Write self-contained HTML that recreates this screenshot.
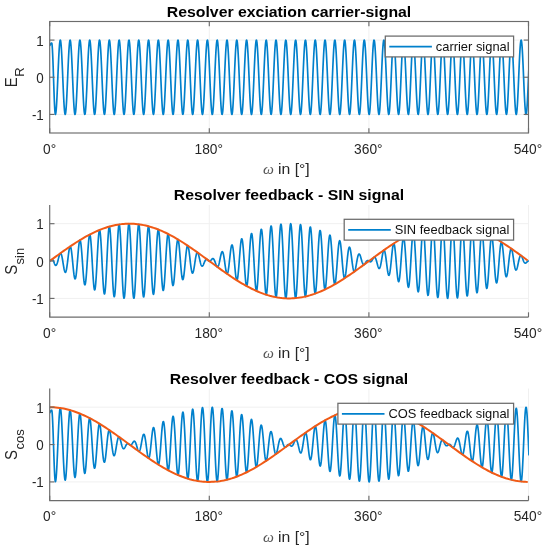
<!DOCTYPE html>
<html><head><meta charset="utf-8"><title>Resolver signals</title>
<style>
html,body{margin:0;padding:0;background:#fff;}
svg{display:block;}
text{font-family:"Liberation Sans",Arial,sans-serif;fill:#262626;}
.tk{font-size:14.4px;}
.lb{font-size:14.67px;}
.tt{font-size:15.5px;font-weight:bold;fill:#000;}
.lg{font-size:12.9px;fill:#111;}
.om{font-family:"Liberation Serif","DejaVu Serif",serif;font-style:italic;}
</style></head><body>
<svg width="548" height="550" viewBox="0 0 548 550">
<rect width="548" height="550" fill="#fff"/>
<defs><filter id="bl" x="-2%" y="-5%" width="104%" height="110%"><feGaussianBlur stdDeviation="0.2"/></filter></defs>
<g stroke="#f0f0f0" stroke-width="1"><line x1="49.70" y1="21.5" x2="49.70" y2="133.0"/><line x1="209.30" y1="21.5" x2="209.30" y2="133.0"/><line x1="368.90" y1="21.5" x2="368.90" y2="133.0"/><line x1="528.50" y1="21.5" x2="528.50" y2="133.0"/><line x1="49.7" y1="114.42" x2="528.5" y2="114.42"/><line x1="49.7" y1="77.25" x2="528.5" y2="77.25"/><line x1="49.7" y1="40.08" x2="528.5" y2="40.08"/></g>
<clipPath id="c0"><rect x="49.7" y="21.5" width="479.25" height="111.5"/></clipPath><g clip-path="url(#c0)"><g filter="url(#bl)"><path d="M49.70 46.03L49.95 45.33L50.20 44.73L50.45 44.22L50.70 43.80L50.95 43.47L51.20 43.24L51.45 43.10L51.70 43.06L51.95 43.86L52.20 46.22L52.45 50.05L52.70 55.16L52.95 61.34L53.20 68.29L53.45 75.71L53.70 83.27L53.95 90.62L54.20 97.44L54.45 103.43L54.70 108.30L54.95 111.84L55.20 113.90L55.45 114.40L55.70 113.73L55.95 112.13L56.20 109.64L56.45 106.32L56.70 102.25L56.95 97.54L57.20 92.31L57.45 86.70L57.70 80.85L57.95 74.90L58.20 69.01L58.45 63.34L58.70 58.02L58.95 53.19L59.20 48.98L59.45 45.49L59.70 42.82L59.95 41.03L60.20 40.16L60.45 40.25L60.70 41.28L60.95 43.24L61.20 46.06L61.45 49.69L61.70 54.02L61.95 58.94L62.20 64.34L62.45 70.06L62.70 75.97L62.95 81.91L63.20 87.73L63.45 93.29L63.70 98.43L63.95 103.03L64.20 106.97L64.45 110.15L64.70 112.49L64.95 113.92L65.20 114.42L65.45 113.96L65.70 112.56L65.95 110.26L66.20 107.11L66.45 103.20L66.70 98.63L66.95 93.50L67.20 87.96L67.45 82.15L67.70 76.21L67.95 70.30L68.20 64.56L68.45 59.15L68.70 54.20L68.95 49.85L69.20 46.19L69.45 43.33L69.70 41.34L69.95 40.27L70.20 40.15L70.45 40.97L70.70 42.73L70.95 45.37L71.20 48.83L71.45 53.01L71.70 57.81L71.95 63.12L72.20 68.78L72.45 74.66L72.70 80.61L72.95 86.47L73.20 92.10L73.45 97.34L73.70 102.07L73.95 106.17L74.20 109.52L74.45 112.05L74.70 113.69L74.95 114.39L75.20 114.14L75.45 112.95L75.70 110.84L75.95 107.88L76.20 104.12L76.45 99.68L76.70 94.67L76.95 89.21L77.20 83.44L77.45 77.52L77.70 71.59L77.95 65.80L78.20 60.31L78.45 55.25L78.70 50.75L78.95 46.93L79.20 43.89L79.45 41.70L79.70 40.43L79.95 40.09L80.20 40.71L80.45 42.27L80.70 44.72L80.95 48.00L81.20 52.03L81.45 56.71L81.70 61.91L81.95 67.51L82.20 73.36L82.45 79.30L82.70 85.20L82.95 90.89L83.20 96.23L83.45 101.08L83.70 105.33L83.95 108.85L84.20 111.57L84.45 113.40L84.70 114.32L84.95 114.28L85.20 113.29L85.45 111.38L85.70 108.60L85.95 105.01L86.20 100.71L86.45 95.82L86.70 90.44L86.95 84.73L87.20 78.83L87.45 72.88L87.70 67.05L87.95 61.48L88.20 56.31L88.45 51.68L88.70 47.71L88.95 44.49L89.20 42.11L89.45 40.63L89.70 40.09L89.95 40.50L90.20 41.85L90.45 44.10L90.70 47.21L90.95 51.09L91.20 55.63L91.45 60.73L91.70 66.25L91.95 72.06L92.20 77.99L92.45 83.91L92.70 89.66L92.95 95.09L93.20 100.06L93.45 104.45L93.70 108.14L93.95 111.04L94.20 113.08L94.45 114.20L94.70 114.37L94.95 113.59L95.20 111.88L95.45 109.28L95.70 105.87L95.95 101.72L96.20 96.94L96.45 91.66L96.70 86.01L96.95 80.13L97.20 74.19L97.45 68.32L97.70 62.68L97.95 57.41L98.20 52.65L98.45 48.52L98.70 45.13L98.95 42.56L99.20 40.87L99.45 40.12L99.70 40.32L99.95 41.47L100.20 43.53L100.45 46.46L100.70 50.17L100.95 54.58L101.20 59.57L101.45 65.01L101.70 70.76L101.95 76.68L102.20 82.62L102.45 88.42L102.70 93.93L102.95 99.01L103.20 103.54L103.45 107.40L103.70 110.48L103.95 112.71L104.20 114.03L104.45 114.41L104.70 113.84L104.95 112.33L105.20 109.93L105.45 106.68L105.70 102.69L105.95 98.04L106.20 92.86L106.45 87.28L106.70 81.44L106.95 75.49L107.20 69.59L107.45 63.89L107.70 58.53L107.95 53.65L108.20 49.37L108.45 45.81L108.70 43.05L108.95 41.17L109.20 40.21L109.45 40.20L109.70 41.14L109.95 43.00L110.20 45.74L110.45 49.29L110.70 53.56L110.95 58.43L111.20 63.78L111.45 69.48L111.70 75.38L111.95 81.32L112.20 87.16L112.45 92.75L112.70 97.94L112.95 102.60L113.20 106.61L113.45 109.87L113.70 112.29L113.95 113.82L114.20 114.41L114.45 114.05L114.70 112.74L114.95 110.53L115.20 107.46L115.45 103.63L115.70 99.11L115.95 94.04L116.20 88.53L116.45 82.74L116.70 76.80L116.95 70.88L117.20 65.12L117.45 59.67L117.70 54.67L117.95 50.25L118.20 46.52L118.45 43.58L118.70 41.50L118.95 40.34L119.20 40.12L119.45 40.85L119.70 42.51L119.95 45.07L120.20 48.45L120.45 52.56L120.70 57.31L120.95 62.57L121.20 68.20L121.45 74.07L121.70 80.02L121.95 85.89L122.20 91.55L122.45 96.84L122.70 101.63L122.95 105.79L123.20 109.22L123.45 111.84L123.70 113.56L123.95 114.36L124.20 114.21L124.45 113.11L124.70 111.09L124.95 108.21L125.20 104.53L125.45 100.16L125.70 95.19L125.95 89.77L126.20 84.03L126.45 78.11L126.70 72.18L126.95 66.37L127.20 60.84L127.45 55.73L127.70 51.17L127.95 47.28L128.20 44.16L128.45 41.88L128.70 40.51L128.95 40.08L129.20 40.61L129.45 42.07L129.70 44.43L129.95 47.64L130.20 51.60L130.45 56.22L130.70 61.37L130.95 66.94L131.20 72.77L131.45 78.71L131.70 84.61L131.95 90.33L132.20 95.71L132.45 100.62L132.70 104.93L132.95 108.53L133.20 111.33L133.45 113.26L133.70 114.27L133.95 114.32L134.20 113.43L134.45 111.61L134.70 108.91L134.95 105.40L135.20 101.17L135.45 96.33L135.70 91.00L135.95 85.31L136.20 79.42L136.45 73.48L136.70 67.63L136.95 62.02L137.20 56.81L137.45 52.12L137.70 48.07L137.95 44.77L138.20 42.31L138.45 40.73L138.70 40.10L138.95 40.41L139.20 41.67L139.45 43.84L139.70 46.86L139.95 50.67L140.20 55.15L140.45 60.20L140.70 65.69L140.95 71.47L141.20 77.40L141.45 83.33L141.70 89.10L141.95 94.56L142.20 99.59L142.45 104.04L142.70 107.81L142.95 110.79L143.20 112.92L143.45 114.13L143.70 114.39L143.95 113.71L144.20 112.09L144.45 109.58L144.70 106.24L144.95 102.16L145.20 97.44L145.45 92.21L145.70 86.59L145.95 80.73L146.20 74.78L146.45 68.90L146.70 63.23L146.95 57.92L147.20 53.10L147.45 48.90L147.70 45.43L147.95 42.77L148.20 41.00L148.45 40.16L148.70 40.26L148.95 41.31L149.20 43.29L149.45 46.13L149.70 49.77L149.95 54.11L150.20 59.05L150.45 64.45L150.70 70.18L150.95 76.09L151.20 82.03L151.45 87.85L151.70 93.40L151.95 98.53L152.20 103.12L152.45 107.04L152.70 110.21L152.95 112.53L153.20 113.94L153.45 114.42L153.70 113.94L153.95 112.53L154.20 110.21L154.45 107.04L154.70 103.12L154.95 98.53L155.20 93.40L155.45 87.85L155.70 82.03L155.95 76.09L156.20 70.18L156.45 64.45L156.70 59.05L156.95 54.11L157.20 49.77L157.45 46.13L157.70 43.29L157.95 41.31L158.20 40.26L158.45 40.16L158.70 41.00L158.95 42.77L159.20 45.43L159.45 48.90L159.70 53.10L159.95 57.92L160.20 63.23L160.45 68.90L160.70 74.78L160.95 80.73L161.20 86.59L161.45 92.21L161.70 97.44L161.95 102.16L162.20 106.24L162.45 109.58L162.70 112.09L162.95 113.71L163.20 114.39L163.45 114.13L163.70 112.92L163.95 110.79L164.20 107.81L164.45 104.04L164.70 99.59L164.95 94.56L165.20 89.10L165.45 83.33L165.70 77.40L165.95 71.47L166.20 65.69L166.45 60.20L166.70 55.15L166.95 50.67L167.20 46.86L167.45 43.84L167.70 41.67L167.95 40.41L168.20 40.10L168.45 40.73L168.70 42.31L168.95 44.77L169.20 48.07L169.45 52.12L169.70 56.81L169.95 62.02L170.20 67.63L170.45 73.48L170.70 79.42L170.95 85.31L171.20 91.00L171.45 96.33L171.70 101.17L171.95 105.40L172.20 108.91L172.45 111.61L172.70 113.43L172.95 114.32L173.20 114.27L173.45 113.26L173.70 111.33L173.95 108.53L174.20 104.93L174.45 100.62L174.70 95.71L174.95 90.33L175.20 84.61L175.45 78.71L175.70 72.77L175.95 66.94L176.20 61.37L176.45 56.22L176.70 51.60L176.95 47.64L177.20 44.43L177.45 42.07L177.70 40.61L177.95 40.08L178.20 40.51L178.45 41.88L178.70 44.16L178.95 47.28L179.20 51.17L179.45 55.73L179.70 60.84L179.95 66.37L180.20 72.18L180.45 78.11L180.70 84.03L180.95 89.77L181.20 95.19L181.45 100.16L181.70 104.53L181.95 108.21L182.20 111.09L182.45 113.11L182.70 114.21L182.95 114.36L183.20 113.56L183.45 111.84L183.70 109.22L183.95 105.79L184.20 101.63L184.45 96.84L184.70 91.55L184.95 85.89L185.20 80.02L185.45 74.07L185.70 68.20L185.95 62.57L186.20 57.31L186.45 52.56L186.70 48.45L186.95 45.07L187.20 42.51L187.45 40.85L187.70 40.12L187.95 40.34L188.20 41.50L188.45 43.58L188.70 46.52L188.95 50.25L189.20 54.67L189.45 59.67L189.70 65.12L189.95 70.88L190.20 76.80L190.45 82.74L190.70 88.53L190.95 94.04L191.20 99.11L191.45 103.63L191.70 107.46L191.95 110.53L192.20 112.74L192.45 114.05L192.70 114.41L192.95 113.82L193.20 112.29L193.45 109.87L193.70 106.61L193.95 102.60L194.20 97.94L194.45 92.75L194.70 87.16L194.95 81.32L195.20 75.38L195.45 69.48L195.70 63.78L195.95 58.43L196.20 53.56L196.45 49.29L196.70 45.74L196.95 43.00L197.20 41.14L197.45 40.20L197.70 40.21L197.95 41.17L198.20 43.05L198.45 45.81L198.70 49.37L198.95 53.65L199.20 58.53L199.45 63.89L199.70 69.59L199.95 75.49L200.20 81.44L200.45 87.28L200.70 92.86L200.95 98.04L201.20 102.69L201.45 106.68L201.70 109.93L201.95 112.33L202.20 113.84L202.45 114.41L202.70 114.03L202.95 112.71L203.20 110.48L203.45 107.40L203.70 103.54L203.95 99.01L204.20 93.93L204.45 88.42L204.70 82.62L204.95 76.68L205.20 70.76L205.45 65.01L205.70 59.57L205.95 54.58L206.20 50.17L206.45 46.46L206.70 43.53L206.95 41.47L207.20 40.32L207.45 40.12L207.70 40.87L207.95 42.56L208.20 45.13L208.45 48.52L208.70 52.65L208.95 57.41L209.20 62.68L209.45 68.32L209.70 74.19L209.95 80.13L210.20 86.01L210.45 91.66L210.70 96.94L210.95 101.72L211.20 105.87L211.45 109.28L211.70 111.88L211.95 113.59L212.20 114.37L212.45 114.20L212.70 113.08L212.95 111.04L213.20 108.14L213.45 104.45L213.70 100.06L213.95 95.09L214.20 89.66L214.45 83.91L214.70 77.99L214.95 72.06L215.20 66.25L215.45 60.73L215.70 55.63L215.95 51.09L216.20 47.21L216.45 44.10L216.70 41.85L216.95 40.50L217.20 40.09L217.45 40.63L217.70 42.11L217.95 44.49L218.20 47.71L218.45 51.68L218.70 56.31L218.95 61.48L219.20 67.05L219.45 72.88L219.70 78.83L219.95 84.73L220.20 90.44L220.45 95.82L220.70 100.71L220.95 105.01L221.20 108.60L221.45 111.38L221.70 113.29L221.95 114.28L222.20 114.32L222.45 113.40L222.70 111.57L222.95 108.85L223.20 105.33L223.45 101.08L223.70 96.23L223.95 90.89L224.20 85.20L224.45 79.30L224.70 73.36L224.95 67.51L225.20 61.91L225.45 56.71L225.70 52.03L225.95 48.00L226.20 44.72L226.45 42.27L226.70 40.71L226.95 40.09L227.20 40.43L227.45 41.70L227.70 43.89L227.95 46.93L228.20 50.75L228.45 55.25L228.70 60.31L228.95 65.80L229.20 71.59L229.45 77.52L229.70 83.44L229.95 89.21L230.20 94.67L230.45 99.68L230.70 104.12L230.95 107.88L231.20 110.84L231.45 112.95L231.70 114.14L231.95 114.39L232.20 113.69L232.45 112.05L232.70 109.52L232.95 106.17L233.20 102.07L233.45 97.34L233.70 92.10L233.95 86.47L234.20 80.61L234.45 74.66L234.70 68.78L234.95 63.12L235.20 57.81L235.45 53.01L235.70 48.83L235.95 45.37L236.20 42.73L236.45 40.97L236.70 40.15L236.95 40.27L237.20 41.34L237.45 43.33L237.70 46.19L237.95 49.85L238.20 54.20L238.45 59.15L238.70 64.56L238.95 70.30L239.20 76.21L239.45 82.15L239.70 87.96L239.95 93.50L240.20 98.63L240.45 103.20L240.70 107.11L240.95 110.26L241.20 112.56L241.45 113.96L241.70 114.42L241.95 113.92L242.20 112.49L242.45 110.15L242.70 106.97L242.95 103.03L243.20 98.43L243.45 93.29L243.70 87.73L243.95 81.91L244.20 75.97L244.45 70.06L244.70 64.34L244.95 58.94L245.20 54.02L245.45 49.69L245.70 46.06L245.95 43.24L246.20 41.28L246.45 40.25L246.70 40.16L246.95 41.03L247.20 42.82L247.45 45.49L247.70 48.98L247.95 53.19L248.20 58.02L248.45 63.34L248.70 69.01L248.95 74.90L249.20 80.85L249.45 86.70L249.70 92.31L249.95 97.54L250.20 102.25L250.45 106.32L250.70 109.64L250.95 112.13L251.20 113.73L251.45 114.40L251.70 114.11L251.95 112.88L252.20 110.74L252.45 107.74L252.70 103.96L252.95 99.49L253.20 94.46L253.45 88.98L253.70 83.21L253.95 77.28L254.20 71.35L254.45 65.57L254.70 60.09L254.95 55.05L255.20 50.58L255.45 46.79L255.70 43.79L255.95 41.63L256.20 40.40L256.45 40.10L256.70 40.76L256.95 42.35L257.20 44.83L257.45 48.15L257.70 52.21L257.95 56.91L258.20 62.13L258.45 67.74L258.70 73.59L258.95 79.54L259.20 85.43L259.45 91.11L259.70 96.43L259.95 101.26L260.20 105.48L260.45 108.98L260.70 111.66L260.95 113.46L261.20 114.33L261.45 114.26L261.70 113.23L261.95 111.29L262.20 108.47L262.45 104.85L262.70 100.53L262.95 95.61L263.20 90.22L263.45 84.50L263.70 78.59L263.95 72.65L264.20 66.82L264.45 61.27L264.70 56.12L264.95 51.51L265.20 47.56L265.45 44.38L265.70 42.03L265.95 40.59L266.20 40.08L266.45 40.53L266.70 41.92L266.95 44.21L267.20 47.35L267.45 51.25L267.70 55.83L267.95 60.94L268.20 66.48L268.45 72.29L268.70 78.23L268.95 84.15L269.20 89.88L269.45 95.30L269.70 100.25L269.95 104.61L270.20 108.27L270.45 111.14L270.70 113.14L270.95 114.22L271.20 114.35L271.45 113.54L271.70 111.79L271.95 109.16L272.20 105.71L272.45 101.54L272.70 96.74L272.95 91.44L273.20 85.78L273.45 79.90L273.70 73.95L273.95 68.09L274.20 62.46L274.45 57.21L274.70 52.47L274.95 48.37L275.20 45.01L275.45 42.47L275.70 40.83L275.95 40.11L276.20 40.35L276.45 41.53L276.70 43.63L276.95 46.59L277.20 50.34L277.45 54.77L277.70 59.78L277.95 65.23L278.20 71.00L278.45 76.92L278.70 82.86L278.95 88.64L279.20 94.14L279.45 99.21L279.70 103.71L279.95 107.53L280.20 110.58L280.45 112.78L280.70 114.06L280.95 114.41L281.20 113.80L281.45 112.25L281.70 109.81L281.95 106.54L282.20 102.51L282.45 97.84L282.70 92.64L282.95 87.05L283.20 81.20L283.45 75.26L283.70 69.36L283.95 63.67L284.20 58.32L284.45 53.46L284.70 49.21L284.95 45.68L285.20 42.96L285.45 41.11L285.70 40.19L285.95 40.22L286.20 41.19L286.45 43.09L286.70 45.87L286.95 49.45L287.20 53.74L287.45 58.63L287.70 64.00L287.95 69.71L288.20 75.61L288.45 81.56L288.70 87.39L288.95 92.96L289.20 98.14L289.45 102.77L289.70 106.76L289.95 109.98L290.20 112.37L290.45 113.86L290.70 114.41L290.95 114.01L291.20 112.67L291.45 110.42L291.70 107.33L291.95 103.46L292.20 98.92L292.45 93.82L292.70 88.30L292.95 82.50L293.20 76.57L293.45 70.65L293.70 64.90L293.95 59.46L294.20 54.48L294.45 50.09L294.70 46.39L294.95 43.48L295.20 41.44L295.45 40.31L295.70 40.13L295.95 40.90L296.20 42.60L296.45 45.19L296.70 48.60L296.95 52.74L297.20 57.51L297.45 62.79L297.70 68.43L297.95 74.31L298.20 80.25L298.45 86.12L298.70 91.77L298.95 97.04L299.20 101.81L299.45 105.94L299.70 109.34L299.95 111.92L300.20 113.61L300.45 114.37L300.70 114.18L300.95 113.05L301.20 110.99L301.45 108.08L301.70 104.37L301.95 99.97L302.20 94.98L302.45 89.55L302.70 83.80L302.95 77.88L303.20 71.94L303.45 66.14L303.70 60.62L303.95 55.53L304.20 51.00L304.45 47.14L304.70 44.05L304.95 41.81L305.20 40.48L305.45 40.09L305.70 40.65L305.95 42.15L306.20 44.55L306.45 47.78L306.70 51.77L306.95 56.41L307.20 61.59L307.45 67.17L307.70 73.00L307.95 78.95L308.20 84.85L308.45 90.55L308.70 95.92L308.95 100.81L309.20 105.09L309.45 108.66L309.70 111.43L309.95 113.32L310.20 114.29L310.45 114.31L310.70 113.38L310.95 111.52L311.20 108.79L311.45 105.25L311.70 100.99L311.95 96.12L312.20 90.78L312.45 85.08L312.70 79.18L312.95 73.24L313.20 67.40L313.45 61.81L313.70 56.61L313.95 51.94L314.20 47.93L314.45 44.66L314.70 42.23L314.95 40.69L315.20 40.09L315.45 40.44L315.70 41.74L315.95 43.94L316.20 47.00L316.45 50.83L316.70 55.34L316.95 60.41L317.20 65.91L317.45 71.70L317.70 77.64L317.95 83.56L318.20 89.32L318.45 94.78L318.70 99.78L318.95 104.21L319.20 107.94L319.45 110.89L319.70 112.98L319.95 114.16L320.20 114.38L320.45 113.66L320.70 112.01L320.95 109.46L321.20 106.09L321.45 101.98L321.70 97.24L321.95 91.99L322.20 86.36L322.45 80.49L322.70 74.54L322.95 68.66L323.20 63.01L323.45 57.71L323.70 52.92L323.95 48.75L324.20 45.31L324.45 42.69L324.70 40.95L324.95 40.14L325.20 40.28L325.45 41.37L325.70 43.38L325.95 46.26L326.20 49.93L326.45 54.30L326.70 59.25L326.95 64.67L327.20 70.41L327.45 76.33L327.70 82.27L327.95 88.08L328.20 93.61L328.45 98.72L328.70 103.29L328.95 107.18L329.20 110.32L329.45 112.60L329.70 113.98L329.95 114.42L330.20 113.90L330.45 112.45L330.70 110.10L330.95 106.90L331.20 102.95L331.45 98.33L331.70 93.18L331.95 87.62L332.20 81.79L332.45 75.85L332.70 69.94L332.95 64.22L333.20 58.84L333.45 53.92L333.70 49.61L333.95 46.00L334.20 43.19L334.45 41.25L334.70 40.24L334.95 40.17L335.20 41.05L335.45 42.86L335.70 45.55L335.95 49.06L336.20 53.28L336.45 58.12L336.70 63.45L336.95 69.13L337.20 75.02L337.45 80.97L337.70 86.82L337.95 92.42L338.20 97.64L338.45 102.34L338.70 106.39L338.95 109.70L339.20 112.17L339.45 113.75L339.70 114.40L339.95 114.10L340.20 112.85L340.45 110.69L340.70 107.67L340.95 103.88L341.20 99.40L341.45 94.35L341.70 88.87L341.95 83.09L342.20 77.16L342.45 71.23L342.70 65.46L342.95 59.99L343.20 54.96L343.45 50.50L343.70 46.73L343.95 43.73L344.20 41.60L344.45 40.38L344.70 40.10L344.95 40.78L345.20 42.39L345.45 44.89L345.70 48.22L345.95 52.30L346.20 57.01L346.45 62.24L346.70 67.86L346.95 73.71L347.20 79.66L347.45 85.55L347.70 91.22L347.95 96.53L348.20 101.35L348.45 105.56L348.70 109.04L348.95 111.70L349.20 113.49L349.45 114.34L349.70 114.25L349.95 113.20L350.20 111.24L350.45 108.40L350.70 104.77L350.95 100.44L351.20 95.51L351.45 90.11L351.70 84.38L351.95 78.47L352.20 72.53L352.45 66.71L352.70 61.16L352.95 56.02L353.20 51.43L353.45 47.49L353.70 44.32L353.95 41.99L354.20 40.57L354.45 40.08L354.70 40.55L354.95 41.96L355.20 44.27L355.45 47.42L355.70 51.34L355.95 55.92L356.20 61.05L356.45 66.59L356.70 72.41L356.95 78.35L357.20 84.26L357.45 90.00L357.70 95.40L357.95 100.34L358.20 104.69L358.45 108.34L358.70 111.19L358.95 113.17L359.20 114.23L359.45 114.35L359.70 113.51L359.95 111.75L360.20 109.10L360.45 105.64L360.70 101.45L360.95 96.64L361.20 91.33L361.45 85.66L361.70 79.78L361.95 73.83L362.20 67.97L362.45 62.35L362.70 57.11L362.95 52.38L363.20 48.30L363.45 44.95L363.70 42.43L363.95 40.80L364.20 40.11L364.45 40.37L364.70 41.57L364.95 43.68L365.20 46.66L365.45 50.42L365.70 54.86L365.95 59.88L366.20 65.35L366.45 71.12L366.70 77.04L366.95 82.97L367.20 88.76L367.45 94.25L367.70 99.30L367.95 103.79L368.20 107.60L368.45 110.64L368.70 112.81L368.95 114.08L369.20 114.40L369.45 113.78L369.70 112.21L369.95 109.75L370.20 106.46L370.45 102.42L370.70 97.74L370.95 92.53L371.20 86.93L371.45 81.08L371.70 75.14L371.95 69.25L372.20 63.56L372.45 58.22L372.70 53.37L372.95 49.13L373.20 45.62L373.45 42.91L373.70 41.08L373.95 40.18L374.20 40.23L374.45 41.22L374.70 43.14L374.95 45.93L375.20 49.53L375.45 53.83L375.70 58.74L375.95 64.11L376.20 69.83L376.45 75.73L376.70 81.68L376.95 87.51L377.20 93.07L377.45 98.23L377.70 102.86L377.95 106.83L378.20 110.04L378.45 112.41L378.70 113.88L378.95 114.41L379.20 114.00L379.45 112.64L379.70 110.37L379.95 107.26L380.20 103.37L380.45 98.82L380.70 93.72L380.95 88.19L381.20 82.38L381.45 76.45L381.70 70.53L381.95 64.78L382.20 59.36L382.45 54.39L382.70 50.01L382.95 46.32L383.20 43.43L383.45 41.41L383.70 40.30L383.95 40.14L384.20 40.92L384.45 42.64L384.70 45.25L384.95 48.67L385.20 52.83L385.45 57.61L385.70 62.90L385.95 68.55L386.20 74.42L386.45 80.37L386.70 86.24L386.95 91.88L387.20 97.14L387.45 101.89L387.70 106.02L387.95 109.40L388.20 111.96L388.45 113.64L388.70 114.38L388.95 114.17L389.20 113.01L389.45 110.94L389.70 108.01L389.95 104.29L390.20 99.87L390.45 94.88L390.70 89.44L390.95 83.68L391.20 77.76L391.45 71.82L391.70 66.03L391.95 60.52L392.20 55.44L392.45 50.92L392.70 47.07L392.95 44.00L393.20 41.77L393.45 40.46L393.70 40.09L393.95 40.67L394.20 42.19L394.45 44.60L394.70 47.85L394.95 51.86L395.20 56.51L395.45 61.70L395.70 67.28L395.95 73.12L396.20 79.07L396.45 84.96L396.70 90.66L396.95 96.02L397.20 100.90L397.45 105.17L397.70 108.73L397.95 111.48L398.20 113.35L398.45 114.30L398.70 114.30L398.95 113.35L399.20 111.48L399.45 108.73L399.70 105.17L399.95 100.90L400.20 96.02L400.45 90.66L400.70 84.96L400.95 79.07L401.20 73.12L401.45 67.28L401.70 61.70L401.95 56.51L402.20 51.86L402.45 47.85L402.70 44.60L402.95 42.19L403.20 40.67L403.45 40.09L403.70 40.46L403.95 41.77L404.20 44.00L404.45 47.07L404.70 50.92L404.95 55.44L405.20 60.52L405.45 66.03L405.70 71.82L405.95 77.76L406.20 83.68L406.45 89.44L406.70 94.88L406.95 99.87L407.20 104.29L407.45 108.01L407.70 110.94L407.95 113.01L408.20 114.17L408.45 114.38L408.70 113.64L408.95 111.96L409.20 109.40L409.45 106.02L409.70 101.89L409.95 97.14L410.20 91.88L410.45 86.24L410.70 80.37L410.95 74.42L411.20 68.55L411.45 62.90L411.70 57.61L411.95 52.83L412.20 48.67L412.45 45.25L412.70 42.64L412.95 40.92L413.20 40.14L413.45 40.30L413.70 41.41L413.95 43.43L414.20 46.32L414.45 50.01L414.70 54.39L414.95 59.36L415.20 64.78L415.45 70.53L415.70 76.45L415.95 82.38L416.20 88.19L416.45 93.72L416.70 98.82L416.95 103.37L417.20 107.26L417.45 110.37L417.70 112.64L417.95 114.00L418.20 114.41L418.45 113.88L418.70 112.41L418.95 110.04L419.20 106.83L419.45 102.86L419.70 98.23L419.95 93.07L420.20 87.51L420.45 81.68L420.70 75.73L420.95 69.83L421.20 64.11L421.45 58.74L421.70 53.83L421.95 49.53L422.20 45.93L422.45 43.14L422.70 41.22L422.95 40.23L423.20 40.18L423.45 41.08L423.70 42.91L423.95 45.62L424.20 49.13L424.45 53.37L424.70 58.22L424.95 63.56L425.20 69.25L425.45 75.14L425.70 81.08L425.95 86.93L426.20 92.53L426.45 97.74L426.70 102.42L426.95 106.46L427.20 109.75L427.45 112.21L427.70 113.78L427.95 114.40L428.20 114.08L428.45 112.81L428.70 110.64L428.95 107.60L429.20 103.79L429.45 99.30L429.70 94.25L429.95 88.76L430.20 82.97L430.45 77.04L430.70 71.12L430.95 65.35L431.20 59.88L431.45 54.86L431.70 50.42L431.95 46.66L432.20 43.68L432.45 41.57L432.70 40.37L432.95 40.11L433.20 40.80L433.45 42.43L433.70 44.95L433.95 48.30L434.20 52.38L434.45 57.11L434.70 62.35L434.95 67.97L435.20 73.83L435.45 79.78L435.70 85.66L435.95 91.33L436.20 96.64L436.45 101.45L436.70 105.64L436.95 109.10L437.20 111.75L437.45 113.51L437.70 114.35L437.95 114.23L438.20 113.17L438.45 111.19L438.70 108.34L438.95 104.69L439.20 100.34L439.45 95.40L439.70 90.00L439.95 84.26L440.20 78.35L440.45 72.41L440.70 66.59L440.95 61.05L441.20 55.92L441.45 51.34L441.70 47.42L441.95 44.27L442.20 41.96L442.45 40.55L442.70 40.08L442.95 40.57L443.20 41.99L443.45 44.32L443.70 47.49L443.95 51.43L444.20 56.02L444.45 61.16L444.70 66.71L444.95 72.53L445.20 78.47L445.45 84.38L445.70 90.11L445.95 95.51L446.20 100.44L446.45 104.77L446.70 108.40L446.95 111.24L447.20 113.20L447.45 114.25L447.70 114.34L447.95 113.49L448.20 111.70L448.45 109.04L448.70 105.56L448.95 101.35L449.20 96.53L449.45 91.22L449.70 85.55L449.95 79.66L450.20 73.71L450.45 67.86L450.70 62.24L450.95 57.01L451.20 52.30L451.45 48.22L451.70 44.89L451.95 42.39L452.20 40.78L452.45 40.10L452.70 40.38L452.95 41.60L453.20 43.73L453.45 46.73L453.70 50.50L453.95 54.96L454.20 59.99L454.45 65.46L454.70 71.23L454.95 77.16L455.20 83.09L455.45 88.87L455.70 94.35L455.95 99.40L456.20 103.88L456.45 107.67L456.70 110.69L456.95 112.85L457.20 114.10L457.45 114.40L457.70 113.75L457.95 112.17L458.20 109.70L458.45 106.39L458.70 102.34L458.95 97.64L459.20 92.42L459.45 86.82L459.70 80.97L459.95 75.02L460.20 69.13L460.45 63.45L460.70 58.12L460.95 53.28L461.20 49.06L461.45 45.55L461.70 42.86L461.95 41.05L462.20 40.17L462.45 40.24L462.70 41.25L462.95 43.19L463.20 46.00L463.45 49.61L463.70 53.92L463.95 58.84L464.20 64.22L464.45 69.94L464.70 75.85L464.95 81.79L465.20 87.62L465.45 93.18L465.70 98.33L465.95 102.95L466.20 106.90L466.45 110.10L466.70 112.45L466.95 113.90L467.20 114.42L467.45 113.98L467.70 112.60L467.95 110.32L468.20 107.18L468.45 103.29L468.70 98.72L468.95 93.61L469.20 88.08L469.45 82.27L469.70 76.33L469.95 70.41L470.20 64.67L470.45 59.25L470.70 54.30L470.95 49.93L471.20 46.26L471.45 43.38L471.70 41.37L471.95 40.28L472.20 40.14L472.45 40.95L472.70 42.69L472.95 45.31L473.20 48.75L473.45 52.92L473.70 57.71L473.95 63.01L474.20 68.66L474.45 74.54L474.70 80.49L474.95 86.36L475.20 91.99L475.45 97.24L475.70 101.98L475.95 106.09L476.20 109.46L476.45 112.01L476.70 113.66L476.95 114.38L477.20 114.16L477.45 112.98L477.70 110.89L477.95 107.94L478.20 104.21L478.45 99.78L478.70 94.78L478.95 89.32L479.20 83.56L479.45 77.64L479.70 71.70L479.95 65.91L480.20 60.41L480.45 55.34L480.70 50.83L480.95 47.00L481.20 43.94L481.45 41.74L481.70 40.44L481.95 40.09L482.20 40.69L482.45 42.23L482.70 44.66L482.95 47.93L483.20 51.94L483.45 56.61L483.70 61.81L483.95 67.40L484.20 73.24L484.45 79.18L484.70 85.08L484.95 90.78L485.20 96.12L485.45 100.99L485.70 105.25L485.95 108.79L486.20 111.52L486.45 113.38L486.70 114.31L486.95 114.29L487.20 113.32L487.45 111.43L487.70 108.66L487.95 105.09L488.20 100.81L488.45 95.92L488.70 90.55L488.95 84.85L489.20 78.95L489.45 73.00L489.70 67.17L489.95 61.59L490.20 56.41L490.45 51.77L490.70 47.78L490.95 44.55L491.20 42.15L491.45 40.65L491.70 40.09L491.95 40.48L492.20 41.81L492.45 44.05L492.70 47.14L492.95 51.00L493.20 55.53L493.45 60.62L493.70 66.14L493.95 71.94L494.20 77.88L494.45 83.80L494.70 89.55L494.95 94.98L495.20 99.97L495.45 104.37L495.70 108.08L495.95 110.99L496.20 113.05L496.45 114.18L496.70 114.37L496.95 113.61L497.20 111.92L497.45 109.34L497.70 105.94L497.95 101.81L498.20 97.04L498.45 91.77L498.70 86.12L498.95 80.25L499.20 74.31L499.45 68.43L499.70 62.79L499.95 57.51L500.20 52.74L500.45 48.60L500.70 45.19L500.95 42.60L501.20 40.90L501.45 40.13L501.70 40.31L501.95 41.44L502.20 43.48L502.45 46.39L502.70 50.09L502.95 54.48L503.20 59.46L503.45 64.90L503.70 70.65L503.95 76.57L504.20 82.50L504.45 88.30L504.70 93.82L504.95 98.92L505.20 103.46L505.45 107.33L505.70 110.42L505.95 112.67L506.20 114.01L506.45 114.41L506.70 113.86L506.95 112.37L507.20 109.98L507.45 106.76L507.70 102.77L507.95 98.14L508.20 92.96L508.45 87.39L508.70 81.56L508.95 75.61L509.20 69.71L509.45 64.00L509.70 58.63L509.95 53.74L510.20 49.45L510.45 45.87L510.70 43.09L510.95 41.19L511.20 40.22L511.45 40.19L511.70 41.11L511.95 42.96L512.20 45.68L512.45 49.21L512.70 53.46L512.95 58.32L513.20 63.67L513.45 69.36L513.70 75.26L513.95 81.20L514.20 87.05L514.45 92.64L514.70 97.84L514.95 102.51L515.20 106.54L515.45 109.81L515.70 112.25L515.95 113.80L516.20 114.41L516.45 114.06L516.70 112.78L516.95 110.58L517.20 107.53L517.45 103.71L517.70 99.21L517.95 94.14L518.20 88.64L518.45 82.86L518.70 76.92L518.95 71.00L519.20 65.23L519.45 59.78L519.70 54.77L519.95 50.34L520.20 46.59L520.45 43.63L520.70 41.53L520.95 40.35L521.20 40.11L521.45 40.83L521.70 42.47L521.95 45.01L522.20 48.37L522.45 52.47L522.70 57.21L522.95 62.46L523.20 68.09L523.45 73.95L523.70 79.90L523.95 85.78L524.20 91.44L524.45 96.74L524.70 101.54L524.95 105.71L525.20 109.16L525.45 111.79L525.70 113.54L525.95 114.35L526.20 114.22L526.45 113.14L526.70 111.14L526.95 108.27L527.20 104.61L527.45 100.25L527.70 95.30L527.95 89.88L528.20 84.15L528.45 78.23L528.70 72.29L528.95 66.48" fill="none" stroke="#0080CC" stroke-width="1.68" stroke-linejoin="round"/>
</g></g><g stroke="#6c6c6c" stroke-width="1.15"><rect x="49.7" y="21.5" width="478.8" height="111.5" fill="none"/><line x1="49.70" y1="133.0" x2="49.70" y2="128.2"/><line x1="49.70" y1="21.5" x2="49.70" y2="26.3"/><line x1="209.30" y1="133.0" x2="209.30" y2="128.2"/><line x1="209.30" y1="21.5" x2="209.30" y2="26.3"/><line x1="368.90" y1="133.0" x2="368.90" y2="128.2"/><line x1="368.90" y1="21.5" x2="368.90" y2="26.3"/><line x1="528.50" y1="133.0" x2="528.50" y2="128.2"/><line x1="528.50" y1="21.5" x2="528.50" y2="26.3"/><line x1="49.7" y1="114.42" x2="54.5" y2="114.42"/><line x1="528.5" y1="114.42" x2="523.7" y2="114.42"/><line x1="49.7" y1="77.25" x2="54.5" y2="77.25"/><line x1="528.5" y1="77.25" x2="523.7" y2="77.25"/><line x1="49.7" y1="40.08" x2="54.5" y2="40.08"/><line x1="528.5" y1="40.08" x2="523.7" y2="40.08"/></g>
<text class="tk" transform="translate(43.80,119.92) scale(0.93,1)" text-anchor="end">-1</text><text class="tk" transform="translate(43.80,82.75) scale(0.93,1)" text-anchor="end">0</text><text class="tk" transform="translate(43.80,45.58) scale(0.93,1)" text-anchor="end">1</text><text class="tk" transform="translate(49.70,153.60) scale(0.93,1)" style="font-size:14.8px" text-anchor="middle">0°</text><text class="tk" transform="translate(208.70,153.60) scale(0.93,1)" style="font-size:14.8px" text-anchor="middle">180°</text><text class="tk" transform="translate(368.30,153.60) scale(0.93,1)" style="font-size:14.8px" text-anchor="middle">360°</text><text class="tk" transform="translate(527.90,153.60) scale(0.93,1)" style="font-size:14.8px" text-anchor="middle">540°</text>
<text class="tt" transform="translate(289,16.90) scale(1.022,1)" text-anchor="middle">Resolver exciation carrier-signal</text>
<text class="lb" transform="translate(263.1,173.95) scale(1.075,1)"><tspan class="om" style="font-size:14.4px" fill="#555">ω </tspan><tspan x="13.86">in [°]</tspan></text>
<text class="lb" transform="translate(16.5,87.25) rotate(-90) scale(1.02,1.15)">E<tspan x="10.29" dy="6.35" style="font-size:11.64px" textLength="9.20" lengthAdjust="spacingAndGlyphs">R</tspan></text>
<rect x="385.3" y="36.10" width="128.30" height="20.8" fill="#fff" stroke="#6b6b6b" stroke-width="1.25"/><line x1="389.30" y1="46.70" x2="431.90" y2="46.70" stroke="#0080CC" stroke-width="1.7"/><text class="lg" x="435.80" y="51.25">carrier signal</text>
<g stroke="#f0f0f0" stroke-width="1"><line x1="49.70" y1="205.0" x2="49.70" y2="317.1"/><line x1="209.30" y1="205.0" x2="209.30" y2="317.1"/><line x1="368.90" y1="205.0" x2="368.90" y2="317.1"/><line x1="528.50" y1="205.0" x2="528.50" y2="317.1"/><line x1="49.7" y1="298.42" x2="528.5" y2="298.42"/><line x1="49.7" y1="261.05" x2="528.5" y2="261.05"/><line x1="49.7" y1="223.68" x2="528.5" y2="223.68"/></g>
<clipPath id="c1"><rect x="49.7" y="205.0" width="479.25" height="112.10000000000002"/></clipPath><g clip-path="url(#c1)"><g filter="url(#bl)"><path d="M49.70 261.05L49.95 260.89L50.20 260.73L50.45 260.56L50.70 260.39L50.95 260.21L51.20 260.04L51.45 259.87L51.70 259.70L51.95 259.56L52.20 259.52L52.45 259.57L52.70 259.74L52.95 260.03L53.20 260.43L53.45 260.94L53.70 261.53L53.95 262.17L54.20 262.85L54.45 263.51L54.70 264.12L54.95 264.64L55.20 265.03L55.45 265.27L55.70 265.37L55.95 265.35L56.20 265.20L56.45 264.92L56.70 264.50L56.95 263.95L57.20 263.28L57.45 262.49L57.70 261.62L57.95 260.67L58.20 259.67L58.45 258.65L58.70 257.64L58.95 256.67L59.20 255.77L59.45 254.96L59.70 254.28L59.95 253.75L60.20 253.40L60.45 253.24L60.70 253.28L60.95 253.54L61.20 254.01L61.45 254.70L61.70 255.58L61.95 256.65L62.20 257.89L62.45 259.26L62.70 260.72L62.95 262.26L63.20 263.82L63.45 265.36L63.70 266.84L63.95 268.23L64.20 269.46L64.45 270.52L64.70 271.36L64.95 271.95L65.20 272.27L65.45 272.31L65.70 272.05L65.95 271.49L66.20 270.63L66.45 269.50L66.70 268.11L66.95 266.49L67.20 264.69L67.45 262.74L67.70 260.69L67.95 258.59L68.20 256.51L68.45 254.49L68.70 252.58L68.95 250.86L69.20 249.36L69.45 248.13L69.70 247.20L69.95 246.62L70.20 246.40L70.45 246.56L70.70 247.11L70.95 248.03L71.20 249.31L71.45 250.93L71.70 252.85L71.95 255.02L72.20 257.40L72.45 259.92L72.70 262.53L72.95 265.15L73.20 267.71L73.45 270.15L73.70 272.41L73.95 274.41L74.20 276.10L74.45 277.43L74.70 278.36L74.95 278.85L75.20 278.90L75.45 278.47L75.70 277.59L75.95 276.26L76.20 274.51L76.45 272.39L76.70 269.93L76.95 267.19L77.20 264.26L77.45 261.19L77.70 258.07L77.95 254.97L78.20 251.99L78.45 249.19L78.70 246.65L78.95 244.45L79.20 242.65L79.45 241.30L79.70 240.44L79.95 240.10L80.20 240.30L80.45 241.04L80.70 242.31L80.95 244.08L81.20 246.32L81.45 248.97L81.70 251.97L81.95 255.24L82.20 258.71L82.45 262.29L82.70 265.88L82.95 269.40L83.20 272.74L83.45 275.82L83.70 278.56L83.95 280.88L84.20 282.72L84.45 284.02L84.70 284.74L84.95 284.86L85.20 284.36L85.45 283.25L85.70 281.56L85.95 279.32L86.20 276.58L86.45 273.41L86.70 269.88L86.95 266.08L87.20 262.12L87.45 258.08L87.70 254.08L87.95 250.21L88.20 246.58L88.45 243.29L88.70 240.42L88.95 238.06L89.20 236.26L89.45 235.09L89.70 234.58L89.95 234.74L90.20 235.59L90.45 237.09L90.70 239.24L90.95 241.96L91.20 245.20L91.45 248.89L91.70 252.92L91.95 257.19L92.20 261.61L92.45 266.04L92.70 270.39L92.95 274.54L93.20 278.37L93.45 281.80L93.70 284.71L93.95 287.04L94.20 288.72L94.45 289.70L94.70 289.95L94.95 289.46L95.20 288.23L95.45 286.29L95.70 283.68L95.95 280.48L96.20 276.74L96.45 272.58L96.70 268.08L96.95 263.38L97.20 258.57L97.45 253.80L97.70 249.18L97.95 244.83L98.20 240.87L98.45 237.40L98.70 234.51L98.95 232.29L99.20 230.79L99.45 230.07L99.70 230.13L99.95 230.99L100.20 232.63L100.45 235.02L100.70 238.08L100.95 241.76L101.20 245.96L101.45 250.57L101.70 255.48L101.95 260.56L102.20 265.69L102.45 270.72L102.70 275.54L102.95 280.01L103.20 284.02L103.45 287.46L103.70 290.24L103.95 292.28L104.20 293.54L104.45 293.96L104.70 293.54L104.95 292.28L105.20 290.22L105.45 287.39L105.70 283.87L105.95 279.74L106.20 275.12L106.45 270.11L106.70 264.84L106.95 259.46L107.20 254.08L107.45 248.86L107.70 243.94L107.95 239.42L108.20 235.45L108.45 232.11L108.70 229.51L108.95 227.70L109.20 226.74L109.45 226.66L109.70 227.47L109.95 229.14L110.20 231.63L110.45 234.89L110.70 238.84L110.95 243.37L111.20 248.38L111.45 253.72L111.70 259.28L111.95 264.90L112.20 270.44L112.45 275.76L112.70 280.72L112.95 285.20L113.20 289.06L113.45 292.22L113.70 294.59L113.95 296.11L114.20 296.73L114.45 296.43L114.70 295.23L114.95 293.15L115.20 290.23L115.45 286.56L115.70 282.22L115.95 277.33L116.20 272.01L116.45 266.39L116.70 260.62L116.95 254.84L117.20 249.21L117.45 243.87L117.70 238.96L117.95 234.61L118.20 230.92L118.45 228.00L118.70 225.92L118.95 224.74L119.20 224.48L119.45 225.17L119.70 226.77L119.95 229.26L120.20 232.57L120.45 236.62L120.70 241.30L120.95 246.50L121.20 252.07L121.45 257.89L121.70 263.80L121.95 269.64L122.20 275.28L122.45 280.55L122.70 285.34L122.95 289.50L123.20 292.95L123.45 295.58L123.70 297.32L123.95 298.14L124.20 298.01L124.45 296.93L124.70 294.92L124.95 292.05L125.20 288.38L125.45 284.01L125.70 279.04L125.95 273.61L126.20 267.85L126.45 261.92L126.70 255.96L126.95 250.12L127.20 244.57L127.45 239.43L127.70 234.85L127.95 230.93L128.20 227.79L128.45 225.50L128.70 224.12L128.95 223.69L129.20 224.21L129.45 225.68L129.70 228.06L129.95 231.28L130.20 235.26L130.45 239.91L130.70 245.09L130.95 250.69L131.20 256.54L131.45 262.52L131.70 268.45L131.95 274.19L132.20 279.59L132.45 284.51L132.70 288.83L132.95 292.43L133.20 295.23L133.45 297.15L133.70 298.14L133.95 298.18L134.20 297.27L134.45 295.43L134.70 292.72L134.95 289.19L135.20 284.95L135.45 280.10L135.70 274.77L135.95 269.09L136.20 263.21L136.45 257.29L136.70 251.47L136.95 245.90L137.20 240.73L137.45 236.09L137.70 232.10L137.95 228.85L138.20 226.43L138.45 224.91L138.70 224.31L138.95 224.65L139.20 225.93L139.45 228.10L139.70 231.11L139.95 234.89L140.20 239.32L140.45 244.30L140.70 249.70L140.95 255.38L141.20 261.20L141.45 266.99L141.70 272.62L141.95 277.94L142.20 282.81L142.45 287.12L142.70 290.74L142.95 293.60L143.20 295.61L143.45 296.74L143.70 296.94L143.95 296.23L144.20 294.62L144.45 292.16L144.70 288.90L144.95 284.95L145.20 280.39L145.45 275.35L145.70 269.96L145.95 264.37L146.20 258.70L146.45 253.11L146.70 247.75L146.95 242.75L147.20 238.23L147.45 234.31L147.70 231.09L147.95 228.65L148.20 227.05L148.45 226.32L148.70 226.49L148.95 227.54L149.20 229.44L149.45 232.14L149.70 235.57L149.95 239.65L150.20 244.25L150.45 249.26L150.70 254.55L150.95 259.99L151.20 265.42L151.45 270.73L151.70 275.76L151.95 280.39L152.20 284.50L152.45 288.00L152.70 290.79L152.95 292.80L153.20 294.00L153.45 294.34L153.70 293.83L153.95 292.49L154.20 290.34L154.45 287.46L154.70 283.92L154.95 279.81L155.20 275.25L155.45 270.35L155.70 265.23L155.95 260.04L156.20 254.90L156.45 249.95L156.70 245.31L156.95 241.10L157.20 237.43L157.45 234.38L157.70 232.03L157.95 230.44L158.20 229.64L158.45 229.65L158.70 230.46L158.95 232.05L159.20 234.37L159.45 237.36L159.70 240.94L159.95 245.00L160.20 249.45L160.45 254.16L160.70 259.02L160.95 263.90L161.20 268.67L161.45 273.21L161.70 277.41L161.95 281.16L162.20 284.37L162.45 286.95L162.70 288.86L162.95 290.04L163.20 290.47L163.45 290.15L163.70 289.08L163.95 287.31L164.20 284.88L164.45 281.86L164.70 278.33L164.95 274.39L165.20 270.14L165.45 265.69L165.70 261.16L165.95 256.67L166.20 252.33L166.45 248.25L166.70 244.53L166.95 241.26L167.20 238.53L167.45 236.40L167.70 234.92L167.95 234.12L168.20 234.02L168.45 234.61L168.70 235.87L168.95 237.76L169.20 240.23L169.45 243.20L169.70 246.60L169.95 250.34L170.20 254.32L170.45 258.42L170.70 262.55L170.95 266.60L171.20 270.47L171.45 274.06L171.70 277.27L171.95 280.04L172.20 282.29L172.45 283.97L172.70 285.05L172.95 285.50L173.20 285.33L173.45 284.53L173.70 283.15L173.95 281.21L174.20 278.79L174.45 275.93L174.70 272.74L174.95 269.28L175.20 265.65L175.45 261.96L175.70 258.28L175.95 254.72L176.20 251.37L176.45 248.31L176.70 245.61L176.95 243.35L177.20 241.56L177.45 240.30L177.70 239.58L177.95 239.43L178.20 239.83L178.45 240.76L178.70 242.20L178.95 244.10L179.20 246.41L179.45 249.06L179.70 251.97L179.95 255.07L180.20 258.28L180.45 261.52L180.70 264.69L180.95 267.72L181.20 270.53L181.45 273.05L181.70 275.23L181.95 277.01L182.20 278.35L182.45 279.23L182.70 279.63L182.95 279.55L183.20 278.99L183.45 277.99L183.70 276.57L183.95 274.78L184.20 272.67L184.45 270.30L184.70 267.74L184.95 265.06L185.20 262.32L185.45 259.60L185.70 256.97L185.95 254.50L186.20 252.24L186.45 250.26L186.70 248.59L186.95 247.27L187.20 246.33L187.45 245.79L187.70 245.65L187.95 245.91L188.20 246.55L188.45 247.54L188.70 248.86L188.95 250.47L189.20 252.30L189.45 254.32L189.70 256.46L189.95 258.67L190.20 260.89L190.45 263.05L190.70 265.11L190.95 267.01L191.20 268.72L191.45 270.18L191.70 271.36L191.95 272.26L192.20 272.84L192.45 273.10L192.70 273.04L192.95 272.68L193.20 272.03L193.45 271.12L193.70 269.97L193.95 268.63L194.20 267.14L194.45 265.54L194.70 263.87L194.95 262.19L195.20 260.53L195.45 258.95L195.70 257.47L195.95 256.13L196.20 254.98L196.45 254.02L196.70 253.27L196.95 252.76L197.20 252.48L197.45 252.44L197.70 252.62L197.95 253.01L198.20 253.60L198.45 254.35L198.70 255.24L198.95 256.25L199.20 257.33L199.45 258.46L199.70 259.60L199.95 260.73L200.20 261.80L200.45 262.80L200.70 263.69L200.95 264.47L201.20 265.11L201.45 265.60L201.70 265.95L201.95 266.14L202.20 266.17L202.45 266.07L202.70 265.84L202.95 265.49L203.20 265.05L203.45 264.53L203.70 263.96L203.95 263.35L204.20 262.73L204.45 262.12L204.70 261.54L204.95 261.00L205.20 260.52L205.45 260.12L205.70 259.79L205.95 259.55L206.20 259.39L206.45 259.31L206.70 259.32L206.95 259.39L207.20 259.52L207.45 259.69L207.70 259.90L207.95 260.12L208.20 260.35L208.45 260.57L208.70 260.76L208.95 260.91L209.20 261.02L209.45 261.08L209.70 261.07L209.95 261.01L210.20 260.89L210.45 260.72L210.70 260.50L210.95 260.25L211.20 259.97L211.45 259.69L211.70 259.41L211.95 259.15L212.20 258.92L212.45 258.75L212.70 258.64L212.95 258.61L213.20 258.67L213.45 258.82L213.70 259.07L213.95 259.41L214.20 259.85L214.45 260.37L214.70 260.97L214.95 261.63L215.20 262.33L215.45 263.06L215.70 263.78L215.95 264.48L216.20 265.14L216.45 265.72L216.70 266.22L216.95 266.59L217.20 266.84L217.45 266.93L217.70 266.87L217.95 266.63L218.20 266.23L218.45 265.65L218.70 264.92L218.95 264.04L219.20 263.04L219.45 261.92L219.70 260.73L219.95 259.48L220.20 258.23L220.45 256.99L220.70 255.80L220.95 254.71L221.20 253.73L221.45 252.92L221.70 252.29L221.95 251.88L222.20 251.69L222.45 251.75L222.70 252.05L222.95 252.62L223.20 253.42L223.45 254.46L223.70 255.71L223.95 257.15L224.20 258.74L224.45 260.44L224.70 262.22L224.95 264.02L225.20 265.80L225.45 267.50L225.70 269.09L225.95 270.52L226.20 271.73L226.45 272.70L226.70 273.39L226.95 273.77L227.20 273.83L227.45 273.55L227.70 272.93L227.95 271.99L228.20 270.74L228.45 269.19L228.70 267.40L228.95 265.39L229.20 263.22L229.45 260.95L229.70 258.62L229.95 256.30L230.20 254.05L230.45 251.93L230.70 250.00L230.95 248.32L231.20 246.94L231.45 245.89L231.70 245.22L231.95 244.95L232.20 245.09L232.45 245.65L232.70 246.63L232.95 248.00L233.20 249.74L233.45 251.81L233.70 254.15L233.95 256.73L234.20 259.46L234.45 262.29L234.70 265.13L234.95 267.92L235.20 270.59L235.45 273.05L235.70 275.24L235.95 277.10L236.20 278.58L236.45 279.63L236.70 280.21L236.95 280.30L237.20 279.89L237.45 278.99L237.70 277.61L237.95 275.78L238.20 273.53L238.45 270.93L238.70 268.03L238.95 264.90L239.20 261.63L239.45 258.30L239.70 254.98L239.95 251.78L240.20 248.77L240.45 246.04L240.70 243.65L240.95 241.69L241.20 240.19L241.45 239.22L241.70 238.80L241.95 238.95L242.20 239.68L242.45 240.97L242.70 242.79L242.95 245.11L243.20 247.87L243.45 251.01L243.70 254.45L243.95 258.10L244.20 261.87L244.45 265.66L244.70 269.38L244.95 272.93L245.20 276.22L245.45 279.15L245.70 281.64L245.95 283.63L246.20 285.07L246.45 285.89L246.70 286.09L246.95 285.64L247.20 284.54L247.45 282.84L247.70 280.55L247.95 277.73L248.20 274.45L248.45 270.79L248.70 266.85L248.95 262.71L249.20 258.49L249.45 254.30L249.70 250.24L249.95 246.41L250.20 242.93L250.45 239.88L250.70 237.35L250.95 235.41L251.20 234.11L251.45 233.50L251.70 233.59L251.95 234.39L252.20 235.88L252.45 238.03L252.70 240.80L252.95 244.11L253.20 247.89L253.45 252.04L253.70 256.46L253.95 261.03L254.20 265.64L254.45 270.16L254.70 274.49L254.95 278.51L255.20 282.11L255.45 285.19L255.70 287.68L255.95 289.50L256.20 290.60L256.45 290.95L256.70 290.53L256.95 289.35L257.20 287.43L257.45 284.81L257.70 281.57L257.95 277.78L258.20 273.52L258.45 268.92L258.70 264.09L258.95 259.14L259.20 254.21L259.45 249.42L259.70 244.91L259.95 240.77L260.20 237.14L260.45 234.09L260.70 231.72L260.95 230.09L261.20 229.25L261.45 229.22L261.70 230.01L261.95 231.60L262.20 233.96L262.45 237.03L262.70 240.74L262.95 244.98L263.20 249.67L263.45 254.67L263.70 259.87L263.95 265.12L264.20 270.30L264.45 275.27L264.70 279.89L264.95 284.06L265.20 287.65L265.45 290.58L265.70 292.77L265.95 294.15L266.20 294.68L266.45 294.36L266.70 293.17L266.95 291.16L267.20 288.36L267.45 284.85L267.70 280.71L267.95 276.04L268.20 270.97L268.45 265.63L268.70 260.14L268.95 254.65L269.20 249.31L269.45 244.25L269.70 239.59L269.95 235.47L270.20 231.99L270.45 229.25L270.70 227.31L270.95 226.23L271.20 226.04L271.45 226.75L271.70 228.34L271.95 230.78L272.20 234.00L272.45 237.93L272.70 242.47L272.95 247.50L273.20 252.89L273.45 258.51L273.70 264.22L273.95 269.86L274.20 275.29L274.45 280.37L274.70 284.97L274.95 288.97L275.20 292.26L275.45 294.76L275.70 296.40L275.95 297.14L276.20 296.96L276.45 295.85L276.70 293.85L276.95 291.00L277.20 287.37L277.45 283.06L277.70 278.18L277.95 272.84L278.20 267.19L278.45 261.37L278.70 255.53L278.95 249.82L279.20 244.39L279.45 239.37L279.70 234.90L279.95 231.10L280.20 228.05L280.45 225.85L280.70 224.54L280.95 224.17L281.20 224.75L281.45 226.26L281.70 228.66L281.95 231.90L282.20 235.89L282.45 240.53L282.70 245.70L282.95 251.27L283.20 257.10L283.45 263.04L283.70 268.94L283.95 274.63L284.20 279.99L284.45 284.86L284.70 289.13L284.95 292.68L285.20 295.43L285.45 297.29L285.70 298.23L285.95 298.21L286.20 297.24L286.45 295.34L286.70 292.56L286.95 288.98L287.20 284.67L287.45 279.76L287.70 274.36L287.95 268.63L288.20 262.70L288.45 256.72L288.70 250.85L288.95 245.25L289.20 240.05L289.45 235.39L289.70 231.39L289.95 228.15L290.20 225.75L290.45 224.25L290.70 223.70L290.95 224.11L291.20 225.47L291.45 227.73L291.70 230.85L291.95 234.74L292.20 239.31L292.45 244.42L292.70 249.96L292.95 255.79L293.20 261.74L293.45 267.66L293.70 273.42L293.95 278.85L294.20 283.82L294.45 288.20L294.70 291.89L294.95 294.78L295.20 296.80L295.45 297.90L295.70 298.06L295.95 297.27L296.20 295.55L296.45 292.95L296.70 289.54L296.95 285.40L297.20 280.64L297.45 275.40L297.70 269.79L297.95 263.97L298.20 258.08L298.45 252.28L298.70 246.71L298.95 241.53L299.20 236.85L299.45 232.80L299.70 229.48L299.95 226.98L300.20 225.36L300.45 224.65L300.70 224.88L300.95 226.04L301.20 228.08L301.45 230.97L301.70 234.62L301.95 238.94L302.20 243.81L302.45 249.11L302.70 254.70L302.95 260.44L303.20 266.19L303.45 271.78L303.70 277.08L303.95 281.96L304.20 286.28L304.45 289.95L304.70 292.87L304.95 294.96L305.20 296.18L305.45 296.49L305.70 295.90L305.95 294.42L306.20 292.09L306.45 288.97L306.70 285.14L306.95 280.72L307.20 275.81L307.45 270.53L307.70 265.04L307.95 259.46L308.20 253.95L308.45 248.63L308.70 243.66L308.95 239.15L309.20 235.22L309.45 231.97L309.70 229.47L309.95 227.80L310.20 226.98L310.45 227.04L310.70 227.96L310.95 229.73L311.20 232.29L311.45 235.58L311.70 239.50L311.95 243.96L312.20 248.83L312.45 253.99L312.70 259.31L312.95 264.65L313.20 269.86L313.45 274.83L313.70 279.41L313.95 283.51L314.20 287.01L314.45 289.82L314.70 291.89L314.95 293.15L315.20 293.59L315.45 293.19L315.70 291.97L315.95 289.97L316.20 287.24L316.45 283.85L316.70 279.91L316.95 275.50L317.20 270.75L317.45 265.78L317.70 260.72L317.95 255.70L318.20 250.85L318.45 246.29L318.70 242.14L318.95 238.49L319.20 235.45L319.45 233.08L319.70 231.45L319.95 230.58L320.20 230.50L320.45 231.19L320.70 232.65L320.95 234.82L321.20 237.65L321.45 241.06L321.70 244.95L321.95 249.22L322.20 253.77L322.45 258.47L322.70 263.20L322.95 267.84L323.20 272.26L323.45 276.37L323.70 280.05L323.95 283.22L324.20 285.80L324.45 287.72L324.70 288.95L324.95 289.45L325.20 289.22L325.45 288.27L325.70 286.64L325.95 284.36L326.20 281.51L326.45 278.17L326.70 274.41L326.95 270.35L327.20 266.08L327.45 261.73L327.70 257.39L327.95 253.20L328.20 249.24L328.45 245.62L328.70 242.43L328.95 239.75L329.20 237.64L329.45 236.14L329.70 235.30L329.95 235.13L330.20 235.62L330.45 236.75L330.70 238.49L330.95 240.80L331.20 243.59L331.45 246.80L331.70 250.34L331.95 254.12L332.20 258.03L332.45 261.97L332.70 265.85L332.95 269.56L333.20 273.01L333.45 276.12L333.70 278.80L333.95 281.00L334.20 282.66L334.45 283.75L334.70 284.25L334.95 284.15L335.20 283.46L335.45 282.20L335.70 280.42L335.95 278.17L336.20 275.51L336.45 272.52L336.70 269.27L336.95 265.85L337.20 262.36L337.45 258.88L337.70 255.51L337.95 252.32L338.20 249.40L338.45 246.82L338.70 244.64L338.95 242.91L339.20 241.67L339.45 240.95L339.70 240.74L339.95 241.06L340.20 241.89L340.45 243.19L340.70 244.93L340.95 247.05L341.20 249.50L341.45 252.20L341.70 255.09L341.95 258.08L342.20 261.10L342.45 264.06L342.70 266.90L342.95 269.53L343.20 271.91L343.45 273.97L343.70 275.66L343.95 276.94L344.20 277.80L344.45 278.21L344.70 278.17L344.95 277.70L345.20 276.81L345.45 275.54L345.70 273.92L345.95 272.00L346.20 269.84L346.45 267.50L346.70 265.05L346.95 262.54L347.20 260.05L347.45 257.63L347.70 255.36L347.95 253.28L348.20 251.45L348.45 249.90L348.70 248.67L348.95 247.79L349.20 247.27L349.45 247.12L349.70 247.33L349.95 247.88L350.20 248.75L350.45 249.92L350.70 251.35L350.95 252.98L351.20 254.78L351.45 256.70L351.70 258.67L351.95 260.65L352.20 262.58L352.45 264.42L352.70 266.12L352.95 267.64L353.20 268.95L353.45 270.01L353.70 270.81L353.95 271.33L354.20 271.57L354.45 271.54L354.70 271.23L354.95 270.67L355.20 269.88L355.45 268.90L355.70 267.74L355.95 266.46L356.20 265.08L356.45 263.65L356.70 262.21L356.95 260.79L357.20 259.44L357.45 258.19L357.70 257.06L357.95 256.08L358.20 255.28L358.45 254.67L358.70 254.24L358.95 254.02L359.20 253.99L359.45 254.15L359.70 254.48L359.95 254.97L360.20 255.59L360.45 256.32L360.70 257.14L360.95 258.01L361.20 258.91L361.45 259.81L361.70 260.69L361.95 261.52L362.20 262.28L362.45 262.95L362.70 263.52L362.95 263.97L363.20 264.31L363.45 264.53L363.70 264.63L363.95 264.61L364.20 264.50L364.45 264.29L364.70 264.01L364.95 263.67L365.20 263.29L365.45 262.88L365.70 262.47L365.95 262.06L366.20 261.69L366.45 261.35L366.70 261.06L366.95 260.83L367.20 260.66L367.45 260.56L367.70 260.53L367.95 260.55L368.20 260.63L368.45 260.75L368.70 260.91L368.95 261.09L369.20 261.27L369.45 261.45L369.70 261.60L369.95 261.73L370.20 261.80L370.45 261.82L370.70 261.78L370.95 261.67L371.20 261.49L371.45 261.24L371.70 260.93L371.95 260.57L372.20 260.16L372.45 259.71L372.70 259.26L372.95 258.80L373.20 258.36L373.45 257.96L373.70 257.62L373.95 257.35L374.20 257.17L374.45 257.10L374.70 257.14L374.95 257.31L375.20 257.60L375.45 258.02L375.70 258.57L375.95 259.22L376.20 259.98L376.45 260.82L376.70 261.73L376.95 262.68L377.20 263.64L377.45 264.58L377.70 265.49L377.95 266.32L378.20 267.05L378.45 267.66L378.70 268.11L378.95 268.39L379.20 268.49L379.45 268.39L379.70 268.08L379.95 267.56L380.20 266.84L380.45 265.94L380.70 264.86L380.95 263.63L381.20 262.29L381.45 260.85L381.70 259.37L381.95 257.87L382.20 256.39L382.45 254.99L382.70 253.70L382.95 252.56L383.20 251.61L383.45 250.87L383.70 250.38L383.95 250.16L384.20 250.22L384.45 250.57L384.70 251.20L384.95 252.12L385.20 253.31L385.45 254.73L385.70 256.36L385.95 258.17L386.20 260.10L386.45 262.11L386.70 264.15L386.95 266.17L387.20 268.10L387.45 269.90L387.70 271.51L387.95 272.89L388.20 273.99L388.45 274.78L388.70 275.23L388.95 275.32L389.20 275.04L389.45 274.38L389.70 273.36L389.95 271.99L390.20 270.31L390.45 268.35L390.70 266.15L390.95 263.77L391.20 261.27L391.45 258.71L391.70 256.15L391.95 253.68L392.20 251.34L392.45 249.21L392.70 247.35L392.95 245.81L393.20 244.63L393.45 243.86L393.70 243.53L393.95 243.64L394.20 244.21L394.45 245.23L394.70 246.68L394.95 248.53L395.20 250.73L395.45 253.25L395.70 256.00L395.95 258.94L396.20 261.98L396.45 265.05L396.70 268.07L396.95 270.95L397.20 273.62L397.45 276.01L397.70 278.04L397.95 279.67L398.20 280.84L398.45 281.51L398.70 281.67L398.95 281.29L399.20 280.38L399.45 278.95L399.70 277.04L399.95 274.69L400.20 271.96L400.45 268.90L400.70 265.59L400.95 262.13L401.20 258.58L401.45 255.06L401.70 251.64L401.95 248.42L402.20 245.49L402.45 242.92L402.70 240.79L402.95 239.15L403.20 238.06L403.45 237.56L403.70 237.65L403.95 238.35L404.20 239.64L404.45 241.51L404.70 243.90L404.95 246.76L405.20 250.03L405.45 253.61L405.70 257.43L405.95 261.39L406.20 265.38L406.45 269.30L406.70 273.05L406.95 276.54L407.20 279.66L407.45 282.33L407.70 284.48L407.95 286.05L408.20 286.98L408.45 287.26L408.70 286.87L408.95 285.80L409.20 284.09L409.45 281.76L409.70 278.88L409.95 275.51L410.20 271.73L410.45 267.65L410.70 263.35L410.95 258.96L411.20 254.58L411.45 250.33L411.70 246.31L411.95 242.65L412.20 239.42L412.45 236.72L412.70 234.63L412.95 233.20L413.20 232.48L413.45 232.49L413.70 233.23L413.95 234.70L414.20 236.86L414.45 239.65L414.70 243.03L414.95 246.89L415.20 251.14L415.45 255.69L415.70 260.41L415.95 265.18L416.20 269.87L416.45 274.38L416.70 278.57L416.95 282.35L417.20 285.60L417.45 288.24L417.70 290.21L417.95 291.43L418.20 291.88L418.45 291.54L418.70 290.41L418.95 288.52L419.20 285.91L419.45 282.65L419.70 278.80L419.95 274.48L420.20 269.78L420.45 264.83L420.70 259.75L420.95 254.67L421.20 249.73L421.45 245.05L421.70 240.75L421.95 236.95L422.20 233.75L422.45 231.24L422.70 229.47L422.95 228.51L423.20 228.38L423.45 229.09L423.70 230.62L423.95 232.95L424.20 236.01L424.45 239.73L424.70 244.01L424.95 248.76L425.20 253.85L425.45 259.14L425.70 264.52L425.95 269.82L426.20 274.93L426.45 279.71L426.70 284.02L426.95 287.77L427.20 290.85L427.45 293.17L427.70 294.68L427.95 295.33L428.20 295.10L428.45 294.00L428.70 292.05L428.95 289.29L429.20 285.79L429.45 281.65L429.70 276.96L429.95 271.84L430.20 266.43L430.45 260.85L430.70 255.27L430.95 249.81L431.20 244.61L431.45 239.83L431.70 235.57L431.95 231.95L432.20 229.07L432.45 227.00L432.70 225.79L432.95 225.49L433.20 226.10L433.45 227.61L433.70 229.98L433.95 233.16L434.20 237.06L434.45 241.59L434.70 246.63L434.95 252.06L435.20 257.73L435.45 263.51L435.70 269.23L435.95 274.76L436.20 279.95L436.45 284.67L436.70 288.80L436.95 292.22L437.20 294.85L437.45 296.62L437.70 297.48L437.95 297.40L438.20 296.40L438.45 294.48L438.70 291.70L438.95 288.13L439.20 283.86L439.45 279.00L439.70 273.66L439.95 268.00L440.20 262.14L440.45 256.25L440.70 250.47L440.95 244.95L441.20 239.84L441.45 235.27L441.70 231.35L441.95 228.18L442.20 225.86L442.45 224.43L442.70 223.94L442.95 224.41L443.20 225.81L443.45 228.12L443.70 231.28L443.95 235.20L444.20 239.79L444.45 244.93L444.70 250.48L444.95 256.32L445.20 262.27L445.45 268.20L445.70 273.95L445.95 279.38L446.20 284.33L446.45 288.69L446.70 292.35L446.95 295.20L447.20 297.18L447.45 298.23L447.70 298.33L447.95 297.48L448.20 295.69L448.45 293.01L448.70 289.51L448.95 285.28L449.20 280.44L449.45 275.09L449.70 269.39L449.95 263.47L450.20 257.50L450.45 251.61L450.70 245.97L450.95 240.72L451.20 235.99L451.45 231.91L451.70 228.57L451.95 226.07L452.20 224.47L452.45 223.81L452.70 224.10L452.95 225.33L453.20 227.49L453.45 230.50L453.70 234.29L453.95 238.76L454.20 243.80L454.45 249.27L454.70 255.04L454.95 260.96L455.20 266.87L455.45 272.63L455.70 278.08L455.95 283.09L456.20 287.53L456.45 291.28L456.70 294.25L456.95 296.37L457.20 297.58L457.45 297.85L457.70 297.18L457.95 295.58L458.20 293.10L458.45 289.81L458.70 285.78L458.95 281.14L459.20 275.98L459.45 270.45L459.70 264.70L459.95 258.86L460.20 253.09L460.45 247.54L460.70 242.35L460.95 237.65L461.20 233.56L461.45 230.18L461.70 227.60L461.95 225.89L462.20 225.08L462.45 225.19L462.70 226.22L462.95 228.14L463.20 230.90L463.45 234.42L463.70 238.61L463.95 243.37L464.20 248.56L464.45 254.06L464.70 259.71L464.95 265.39L465.20 270.93L465.45 276.20L465.70 281.07L465.95 285.41L466.20 289.11L466.45 292.08L466.70 294.24L466.95 295.55L467.20 295.97L467.45 295.49L467.70 294.13L467.95 291.94L468.20 288.96L468.45 285.27L468.70 280.99L468.95 276.21L469.20 271.06L469.45 265.68L469.70 260.20L469.95 254.77L470.20 249.52L470.45 244.59L470.70 240.10L470.95 236.17L471.20 232.90L471.45 230.36L471.70 228.62L471.95 227.71L472.20 227.66L472.45 228.47L472.70 230.11L472.95 232.53L473.20 235.66L473.45 239.43L473.70 243.74L473.95 248.46L474.20 253.48L474.45 258.67L474.70 263.89L474.95 269.01L475.20 273.90L475.45 278.43L475.70 282.49L475.95 285.97L476.20 288.81L476.45 290.91L476.70 292.24L476.95 292.76L477.20 292.47L477.45 291.37L477.70 289.51L477.95 286.93L478.20 283.71L478.45 279.93L478.70 275.69L478.95 271.10L479.20 266.29L479.45 261.37L479.70 256.48L479.95 251.74L480.20 247.27L480.45 243.19L480.70 239.59L480.95 236.56L481.20 234.19L481.45 232.51L481.70 231.58L481.95 231.41L482.20 232.00L482.45 233.33L482.70 235.35L482.95 238.02L483.20 241.25L483.45 244.97L483.70 249.06L483.95 253.43L484.20 257.96L484.45 262.53L484.70 267.03L484.95 271.33L485.20 275.34L485.45 278.94L485.70 282.06L485.95 284.61L486.20 286.54L486.45 287.80L486.70 288.36L486.95 288.22L487.20 287.39L487.45 285.89L487.70 283.77L487.95 281.09L488.20 277.93L488.45 274.36L488.70 270.49L488.95 266.41L489.20 262.24L489.45 258.08L489.70 254.04L489.95 250.22L490.20 246.71L490.45 243.61L490.70 240.98L490.95 238.90L491.20 237.40L491.45 236.53L491.70 236.29L491.95 236.69L492.20 237.70L492.45 239.30L492.70 241.44L492.95 244.05L493.20 247.07L493.45 250.41L493.70 253.98L493.95 257.69L494.20 261.44L494.45 265.14L494.70 268.68L494.95 271.99L495.20 274.97L495.45 277.56L495.70 279.70L495.95 281.33L496.20 282.42L496.45 282.95L496.70 282.92L496.95 282.32L497.20 281.19L497.45 279.57L497.70 277.49L497.95 275.02L498.20 272.23L498.45 269.19L498.70 265.99L498.95 262.71L499.20 259.44L499.45 256.25L499.70 253.24L499.95 250.47L500.20 248.02L500.45 245.94L500.70 244.28L500.95 243.07L501.20 242.34L501.45 242.10L501.70 242.35L501.95 243.08L502.20 244.25L502.45 245.83L502.70 247.77L502.95 250.02L503.20 252.51L503.45 255.17L503.70 257.94L503.95 260.73L504.20 263.48L504.45 266.12L504.70 268.57L504.95 270.79L505.20 272.72L505.45 274.30L505.70 275.52L505.95 276.34L506.20 276.76L506.45 276.76L506.70 276.36L506.95 275.58L507.20 274.45L507.45 272.99L507.70 271.27L507.95 269.31L508.20 267.20L508.45 264.97L508.70 262.70L508.95 260.43L509.20 258.24L509.45 256.17L509.70 254.28L509.95 252.61L510.20 251.20L510.45 250.07L510.70 249.26L510.95 248.77L511.20 248.61L511.45 248.78L511.70 249.25L511.95 250.02L512.20 251.04L512.45 252.29L512.70 253.73L512.95 255.32L513.20 257.00L513.45 258.73L513.70 260.47L513.95 262.17L514.20 263.79L514.45 265.27L514.70 266.60L514.95 267.74L515.20 268.67L515.45 269.37L515.70 269.82L515.95 270.04L516.20 270.01L516.45 269.75L516.70 269.27L516.95 268.60L517.20 267.77L517.45 266.79L517.70 265.71L517.95 264.55L518.20 263.36L518.45 262.16L518.70 260.99L518.95 259.88L519.20 258.85L519.45 257.94L519.70 257.15L519.95 256.52L520.20 256.04L520.45 255.72L520.70 255.56L520.95 255.56L521.20 255.70L521.45 255.98L521.70 256.38L521.95 256.88L522.20 257.46L522.45 258.09L522.70 258.75L522.95 259.43L523.20 260.09L523.45 260.72L523.70 261.30L523.95 261.82L524.20 262.26L524.45 262.61L524.70 262.87L524.95 263.05L525.20 263.13L525.45 263.13L525.70 263.06L525.95 262.92L526.20 262.73L526.45 262.51L526.70 262.26L526.95 262.00L527.20 261.75L527.45 261.53L527.70 261.34L527.95 261.19L528.20 261.09L528.45 261.05L528.70 261.07L528.95 261.15" fill="none" stroke="#0080CC" stroke-width="1.68" stroke-linejoin="round"/>
<path d="M49.70 261.05L51.70 259.58L53.70 258.11L55.70 256.65L57.70 255.19L59.70 253.74L61.70 252.31L63.70 250.88L65.70 249.48L67.70 248.09L69.70 246.72L71.70 245.37L73.70 244.05L75.70 242.75L77.70 241.48L79.70 240.24L81.70 239.04L83.70 237.87L85.70 236.73L87.70 235.63L89.70 234.58L91.70 233.56L93.70 232.58L95.70 231.65L97.70 230.77L99.70 229.93L101.70 229.14L103.70 228.40L105.70 227.71L107.70 227.07L109.70 226.49L111.70 225.95L113.70 225.48L115.70 225.05L117.70 224.69L119.70 224.38L121.70 224.12L123.70 223.93L125.70 223.79L127.70 223.71L129.70 223.68L131.70 223.72L133.70 223.81L135.70 223.96L137.70 224.17L139.70 224.43L141.70 224.76L143.70 225.13L145.70 225.57L147.70 226.06L149.70 226.60L151.70 227.19L153.70 227.84L155.70 228.54L157.70 229.29L159.70 230.09L161.70 230.94L163.70 231.84L165.70 232.78L167.70 233.76L169.70 234.78L171.70 235.85L173.70 236.96L175.70 238.10L177.70 239.28L179.70 240.49L181.70 241.73L183.70 243.01L185.70 244.31L187.70 245.64L189.70 246.99L191.70 248.36L193.70 249.76L195.70 251.17L197.70 252.59L199.70 254.03L201.70 255.48L203.70 256.94L205.70 258.40L207.70 259.87L209.70 261.34L211.70 262.81L213.70 264.28L215.70 265.74L217.70 267.20L219.70 268.65L221.70 270.08L223.70 271.50L225.70 272.90L227.70 274.29L229.70 275.65L231.70 277.00L233.70 278.31L235.70 279.61L237.70 280.87L239.70 282.10L241.70 283.30L243.70 284.46L245.70 285.59L247.70 286.68L249.70 287.73L251.70 288.74L253.70 289.71L255.70 290.63L257.70 291.50L259.70 292.33L261.70 293.11L263.70 293.84L265.70 294.52L267.70 295.15L269.70 295.73L271.70 296.25L273.70 296.71L275.70 297.12L277.70 297.48L279.70 297.78L281.70 298.02L283.70 298.21L285.70 298.33L287.70 298.40L289.70 298.41L291.70 298.37L293.70 298.26L295.70 298.10L297.70 297.88L299.70 297.61L301.70 297.27L303.70 296.88L305.70 296.44L307.70 295.94L309.70 295.39L311.70 294.78L313.70 294.12L315.70 293.41L317.70 292.65L319.70 291.84L321.70 290.98L323.70 290.08L325.70 289.13L327.70 288.14L329.70 287.11L331.70 286.03L333.70 284.92L335.70 283.77L337.70 282.58L339.70 281.36L341.70 280.11L343.70 278.83L345.70 277.53L347.70 276.19L349.70 274.84L351.70 273.46L353.70 272.06L355.70 270.65L357.70 269.22L359.70 267.78L361.70 266.33L363.70 264.87L365.70 263.40L367.70 261.93L369.70 260.46L371.70 258.99L373.70 257.52L375.70 256.06L377.70 254.61L379.70 253.17L381.70 251.73L383.70 250.32L385.70 248.92L387.70 247.54L389.70 246.17L391.70 244.84L393.70 243.52L395.70 242.24L397.70 240.98L399.70 239.76L401.70 238.57L403.70 237.41L405.70 236.29L407.70 235.21L409.70 234.16L411.70 233.16L413.70 232.21L415.70 231.29L417.70 230.43L419.70 229.61L421.70 228.84L423.70 228.12L425.70 227.45L427.70 226.83L429.70 226.27L431.70 225.76L433.70 225.30L435.70 224.90L437.70 224.56L439.70 224.27L441.70 224.04L443.70 223.86L445.70 223.75L447.70 223.69L449.70 223.69L451.70 223.75L453.70 223.86L455.70 224.04L457.70 224.27L459.70 224.56L461.70 224.90L463.70 225.30L465.70 225.76L467.70 226.27L469.70 226.83L471.70 227.45L473.70 228.12L475.70 228.84L477.70 229.61L479.70 230.43L481.70 231.29L483.70 232.21L485.70 233.16L487.70 234.16L489.70 235.21L491.70 236.29L493.70 237.41L495.70 238.57L497.70 239.76L499.70 240.98L501.70 242.24L503.70 243.52L505.70 244.84L507.70 246.17L509.70 247.54L511.70 248.92L513.70 250.32L515.70 251.73L517.70 253.17L519.70 254.61L521.70 256.06L523.70 257.52L525.70 258.99L527.70 260.46" fill="none" stroke="#F05A16" stroke-width="2.0" stroke-linejoin="round"/>
</g></g><g stroke="#6c6c6c" stroke-width="1.15"><path d="M49.7 205.0V317.1H528.5" fill="none"/><line x1="49.70" y1="317.1" x2="49.70" y2="312.3"/><line x1="209.30" y1="317.1" x2="209.30" y2="312.3"/><line x1="368.90" y1="317.1" x2="368.90" y2="312.3"/><line x1="528.50" y1="317.1" x2="528.50" y2="312.3"/><line x1="49.7" y1="298.42" x2="54.5" y2="298.42"/><line x1="49.7" y1="261.05" x2="54.5" y2="261.05"/><line x1="49.7" y1="223.68" x2="54.5" y2="223.68"/></g>
<text class="tk" transform="translate(43.80,303.92) scale(0.93,1)" text-anchor="end">-1</text><text class="tk" transform="translate(43.80,266.55) scale(0.93,1)" text-anchor="end">0</text><text class="tk" transform="translate(43.80,229.18) scale(0.93,1)" text-anchor="end">1</text><text class="tk" transform="translate(49.70,337.70) scale(0.93,1)" style="font-size:14.8px" text-anchor="middle">0°</text><text class="tk" transform="translate(208.70,337.70) scale(0.93,1)" style="font-size:14.8px" text-anchor="middle">180°</text><text class="tk" transform="translate(368.30,337.70) scale(0.93,1)" style="font-size:14.8px" text-anchor="middle">360°</text><text class="tk" transform="translate(527.90,337.70) scale(0.93,1)" style="font-size:14.8px" text-anchor="middle">540°</text>
<text class="tt" transform="translate(289,200.40) scale(1.022,1)" text-anchor="middle">Resolver feedback - SIN signal</text>
<text class="lb" transform="translate(263.1,358.05) scale(1.075,1)"><tspan class="om" style="font-size:14.4px" fill="#555">ω </tspan><tspan x="13.86">in [°]</tspan></text>
<text class="lb" transform="translate(16.5,274.65) rotate(-90) scale(1.02,1.15)">S<tspan x="10.00" dy="6.35" style="font-size:11.64px" textLength="16.29" lengthAdjust="spacingAndGlyphs">sin</tspan></text>
<rect x="344.2" y="219.30" width="169.40" height="20.8" fill="#fff" stroke="#6b6b6b" stroke-width="1.25"/><line x1="348.20" y1="229.90" x2="390.80" y2="229.90" stroke="#0080CC" stroke-width="1.7"/><text class="lg" x="394.70" y="234.45">SIN feedback signal</text>
<g stroke="#f0f0f0" stroke-width="1"><line x1="49.70" y1="388.5" x2="49.70" y2="500.6"/><line x1="209.30" y1="388.5" x2="209.30" y2="500.6"/><line x1="368.90" y1="388.5" x2="368.90" y2="500.6"/><line x1="528.50" y1="388.5" x2="528.50" y2="500.6"/><line x1="49.7" y1="481.92" x2="528.5" y2="481.92"/><line x1="49.7" y1="444.55" x2="528.5" y2="444.55"/><line x1="49.7" y1="407.18" x2="528.5" y2="407.18"/></g>
<clipPath id="c2"><rect x="49.7" y="388.5" width="479.25" height="112.10000000000002"/></clipPath><g clip-path="url(#c2)"><g filter="url(#bl)"><path d="M49.70 413.16L49.95 412.46L50.20 411.86L50.45 411.34L50.70 410.93L50.95 410.60L51.20 410.37L51.45 410.24L51.70 410.20L51.95 411.01L52.20 413.39L52.45 417.24L52.70 422.38L52.95 428.58L53.20 435.56L53.45 443.01L53.70 450.58L53.95 457.95L54.20 464.77L54.45 470.75L54.70 475.61L54.95 479.14L55.20 481.18L55.45 481.66L55.70 480.97L55.95 479.35L56.20 476.85L56.45 473.51L56.70 469.45L56.95 464.74L57.20 459.53L57.45 453.94L57.70 448.12L57.95 442.22L58.20 436.38L58.45 430.77L58.70 425.52L58.95 420.76L59.20 416.62L59.45 413.21L59.70 410.60L59.95 408.87L60.20 408.06L60.45 408.18L60.70 409.23L60.95 411.19L61.20 413.99L61.45 417.58L61.70 421.84L61.95 426.68L62.20 431.96L62.45 437.55L62.70 443.31L62.95 449.08L63.20 454.72L63.45 460.09L63.70 465.04L63.95 469.46L64.20 473.22L64.45 476.24L64.70 478.44L64.95 479.77L65.20 480.19L65.45 479.70L65.70 478.31L65.95 476.06L66.20 473.01L66.45 469.24L66.70 464.85L66.95 459.96L67.20 454.69L67.45 449.18L67.70 443.57L67.95 438.00L68.20 432.63L68.45 427.58L68.70 422.98L68.95 418.95L69.20 415.60L69.45 413.00L69.70 411.21L69.95 410.29L70.20 410.24L70.45 411.08L70.70 412.77L70.95 415.26L71.20 418.49L71.45 422.38L71.70 426.81L71.95 431.68L72.20 436.86L72.45 442.20L72.70 447.59L72.95 452.87L73.20 457.91L73.45 462.58L73.70 466.77L73.95 470.37L74.20 473.29L74.45 475.47L74.70 476.84L74.95 477.37L75.20 477.06L75.45 475.93L75.70 474.00L75.95 471.32L76.20 467.98L76.45 464.05L76.70 459.65L76.95 454.89L77.20 449.89L77.45 444.78L77.70 439.70L77.95 434.77L78.20 430.13L78.45 425.88L78.70 422.13L78.95 418.98L79.20 416.51L79.45 414.77L79.70 413.80L79.95 413.62L80.20 414.24L80.45 415.63L80.70 417.74L80.95 420.53L81.20 423.92L81.45 427.80L81.70 432.09L81.95 436.67L82.20 441.41L82.45 446.20L82.70 450.91L82.95 455.43L83.20 459.63L83.45 463.41L83.70 466.69L83.95 469.37L84.20 471.40L84.45 472.72L84.70 473.32L84.95 473.17L85.20 472.29L85.45 470.71L85.70 468.48L85.95 465.65L86.20 462.31L86.45 458.54L86.70 454.45L86.95 450.14L87.20 445.72L87.45 441.32L87.70 437.03L87.95 432.98L88.20 429.26L88.45 425.97L88.70 423.18L88.95 420.96L89.20 419.37L89.45 418.44L89.70 418.18L89.95 418.60L90.20 419.68L90.45 421.38L90.70 423.66L90.95 426.45L91.20 429.67L91.45 433.24L91.70 437.06L91.95 441.03L92.20 445.05L92.45 449.01L92.70 452.82L92.95 456.37L93.20 459.58L93.45 462.37L93.70 464.67L93.95 466.43L94.20 467.61L94.45 468.19L94.70 468.16L94.95 467.52L95.20 466.31L95.45 464.55L95.70 462.31L95.95 459.64L96.20 456.62L96.45 453.32L96.70 449.85L96.95 446.28L97.20 442.72L97.45 439.25L97.70 435.97L97.95 432.94L98.20 430.26L98.45 427.98L98.70 426.15L98.95 424.82L99.20 424.01L99.45 423.74L99.70 424.00L99.95 424.79L100.20 426.06L100.45 427.80L100.70 429.93L100.95 432.40L101.20 435.15L101.45 438.09L101.70 441.16L101.95 444.26L102.20 447.31L102.45 450.25L102.70 452.99L102.95 455.47L103.20 457.63L103.45 459.42L103.70 460.80L103.95 461.73L104.20 462.21L104.45 462.24L104.70 461.80L104.95 460.94L105.20 459.67L105.45 458.04L105.70 456.10L105.95 453.89L106.20 451.50L106.45 448.97L106.70 446.38L106.95 443.79L107.20 441.28L107.45 438.90L107.70 436.72L107.95 434.78L108.20 433.14L108.45 431.82L108.70 430.86L108.95 430.27L109.20 430.06L109.45 430.23L109.70 430.75L109.95 431.62L110.20 432.80L110.45 434.25L110.70 435.93L110.95 437.79L111.20 439.78L111.45 441.83L111.70 443.90L111.95 445.94L112.20 447.88L112.45 449.68L112.70 451.30L112.95 452.71L113.20 453.86L113.45 454.74L113.70 455.33L113.95 455.63L114.20 455.63L114.45 455.35L114.70 454.80L114.95 454.00L115.20 452.99L115.45 451.79L115.70 450.45L115.95 449.00L116.20 447.49L116.45 445.95L116.70 444.44L116.95 442.98L117.20 441.63L117.45 440.40L117.70 439.33L117.95 438.43L118.20 437.74L118.45 437.25L118.70 436.97L118.95 436.90L119.20 437.03L119.45 437.36L119.70 437.85L119.95 438.50L120.20 439.28L120.45 440.15L120.70 441.09L120.95 442.08L121.20 443.07L121.45 444.05L121.70 444.98L121.95 445.84L122.20 446.61L122.45 447.27L122.70 447.82L122.95 448.24L123.20 448.53L123.45 448.68L123.70 448.71L123.95 448.62L124.20 448.42L124.45 448.13L124.70 447.76L124.95 447.33L125.20 446.87L125.45 446.38L125.70 445.90L125.95 445.43L126.20 444.99L126.45 444.60L126.70 444.27L126.95 444.00L127.20 443.80L127.45 443.68L127.70 443.62L127.95 443.63L128.20 443.70L128.45 443.82L128.70 443.97L128.95 444.15L129.20 444.33L129.45 444.52L129.70 444.68L129.95 444.81L130.20 444.91L130.45 444.95L130.70 444.93L130.95 444.85L131.20 444.70L131.45 444.49L131.70 444.23L131.95 443.92L132.20 443.56L132.45 443.19L132.70 442.80L132.95 442.42L133.20 442.06L133.45 441.74L133.70 441.48L133.95 441.29L134.20 441.19L134.45 441.19L134.70 441.30L134.95 441.52L135.20 441.86L135.45 442.31L135.70 442.87L135.95 443.52L136.20 444.26L136.45 445.07L136.70 445.92L136.95 446.79L137.20 447.65L137.45 448.49L137.70 449.26L137.95 449.96L138.20 450.54L138.45 450.98L138.70 451.28L138.95 451.40L139.20 451.34L139.45 451.09L139.70 450.64L139.95 450.01L140.20 449.20L140.45 448.22L140.70 447.09L140.95 445.85L141.20 444.52L141.45 443.13L141.70 441.72L141.95 440.33L142.20 438.99L142.45 437.76L142.70 436.66L142.95 435.73L143.20 435.00L143.45 434.50L143.70 434.25L143.95 434.26L144.20 434.56L144.45 435.12L144.70 435.96L144.95 437.05L145.20 438.38L145.45 439.91L145.70 441.61L145.95 443.44L146.20 445.35L146.45 447.30L146.70 449.23L146.95 451.10L147.20 452.84L147.45 454.41L147.70 455.77L147.95 456.86L148.20 457.66L148.45 458.14L148.70 458.27L148.95 458.05L149.20 457.46L149.45 456.52L149.70 455.25L149.95 453.66L150.20 451.80L150.45 449.71L150.70 447.43L150.95 445.03L151.20 442.56L151.45 440.09L151.70 437.68L151.95 435.40L152.20 433.31L152.45 431.47L152.70 429.94L152.95 428.75L153.20 427.96L153.45 427.58L153.70 427.64L153.95 428.13L154.20 429.07L154.45 430.42L154.70 432.17L154.95 434.28L155.20 436.68L155.45 439.34L155.70 442.18L155.95 445.13L156.20 448.12L156.45 451.06L156.70 453.89L156.95 456.52L157.20 458.88L157.45 460.91L157.70 462.55L157.95 463.74L158.20 464.46L158.45 464.67L158.70 464.36L158.95 463.54L159.20 462.20L159.45 460.40L159.70 458.15L159.95 455.52L160.20 452.56L160.45 449.36L160.70 445.98L160.95 442.52L161.20 439.07L161.45 435.70L161.70 432.53L161.95 429.62L162.20 427.06L162.45 424.92L162.70 423.25L162.95 422.12L163.20 421.56L163.45 421.58L163.70 422.19L163.95 423.40L164.20 425.16L164.45 427.45L164.70 430.20L164.95 433.36L165.20 436.85L165.45 440.58L165.70 444.45L165.95 448.37L166.20 452.24L166.45 455.95L166.70 459.40L166.95 462.52L167.20 465.20L167.45 467.37L167.70 468.98L167.95 469.98L168.20 470.33L168.45 470.02L168.70 469.05L168.95 467.43L169.20 465.21L169.45 462.43L169.70 459.17L169.95 455.49L170.20 451.50L170.45 447.29L170.70 442.97L170.95 438.65L171.20 434.44L171.45 430.45L171.70 426.79L171.95 423.56L172.20 420.83L172.45 418.70L172.70 417.21L172.95 416.42L173.20 416.34L173.45 416.99L173.70 418.36L173.95 420.41L174.20 423.10L174.45 426.37L174.70 430.13L174.95 434.29L175.20 438.75L175.45 443.40L175.70 448.11L175.95 452.76L176.20 457.24L176.45 461.43L176.70 465.21L176.95 468.49L177.20 471.17L177.45 473.19L177.70 474.49L177.95 475.02L178.20 474.78L178.45 473.75L178.70 471.97L178.95 469.46L179.20 466.30L179.45 462.56L179.70 458.33L179.95 453.72L180.20 448.84L180.45 443.82L180.70 438.79L180.95 433.87L181.20 429.20L181.45 424.90L181.70 421.07L181.95 417.83L182.20 415.25L182.45 413.42L182.70 412.37L182.95 412.15L183.20 412.75L183.45 414.18L183.70 416.40L183.95 419.36L184.20 422.97L184.45 427.17L184.70 431.83L184.95 436.84L185.20 442.08L185.45 447.40L185.70 452.68L185.95 457.78L186.20 462.56L186.45 466.90L186.70 470.69L186.95 473.82L187.20 476.22L187.45 477.81L187.70 478.56L187.95 478.43L188.20 477.44L188.45 475.59L188.70 472.94L188.95 469.54L189.20 465.49L189.45 460.89L189.70 455.85L189.95 450.49L190.20 444.97L190.45 439.41L190.70 433.96L190.95 428.76L191.20 423.95L191.45 419.65L191.70 415.98L191.95 413.02L192.20 410.87L192.45 409.57L192.70 409.17L192.95 409.67L193.20 411.07L193.45 413.34L193.70 416.41L193.95 420.22L194.20 424.66L194.45 429.63L194.70 434.99L194.95 440.62L195.20 446.36L195.45 452.08L195.70 457.61L195.95 462.83L196.20 467.58L196.45 471.76L196.70 475.26L196.95 477.97L197.20 479.83L197.45 480.79L197.70 480.83L197.95 479.93L198.20 478.12L198.45 475.44L198.70 471.97L198.95 467.79L199.20 463.00L199.45 457.73L199.70 452.11L199.95 446.29L200.20 440.41L200.45 434.62L200.70 429.08L200.95 423.93L201.20 419.30L201.45 415.31L201.70 412.06L201.95 409.65L202.20 408.12L202.45 407.53L202.70 407.88L202.95 409.18L203.20 411.38L203.45 414.44L203.70 418.28L203.95 422.79L204.20 427.87L204.45 433.37L204.70 439.17L204.95 445.12L205.20 451.05L205.45 456.82L205.70 462.28L205.95 467.29L206.20 471.72L206.45 475.46L206.70 478.41L206.95 480.48L207.20 481.64L207.45 481.85L207.70 481.10L207.95 479.42L208.20 476.84L208.45 473.43L208.70 469.28L208.95 464.50L209.20 459.20L209.45 453.53L209.70 447.63L209.95 441.65L210.20 435.75L210.45 430.07L210.70 424.76L210.95 419.97L211.20 415.80L211.45 412.37L211.70 409.77L211.95 408.07L212.20 407.29L212.45 407.48L212.70 408.61L212.95 410.66L213.20 413.58L213.45 417.29L213.70 421.70L213.95 426.69L214.20 432.13L214.45 437.89L214.70 443.81L214.95 449.74L215.20 455.53L215.45 461.04L215.70 466.11L215.95 470.63L216.20 474.47L216.45 477.55L216.70 479.77L216.95 481.08L217.20 481.46L217.45 480.90L217.70 479.40L217.95 477.01L218.20 473.80L218.45 469.84L218.70 465.24L218.95 460.12L219.20 454.61L219.45 448.85L219.70 443.00L219.95 437.19L220.20 431.59L220.45 426.33L220.70 421.55L220.95 417.37L221.20 413.89L221.45 411.21L221.70 409.39L221.95 408.47L222.20 408.48L222.45 409.41L222.70 411.24L222.95 413.92L223.20 417.37L223.45 421.51L223.70 426.23L223.95 431.41L224.20 436.90L224.45 442.58L224.70 448.29L224.95 453.88L225.20 459.22L225.45 464.17L225.70 468.59L225.95 472.39L226.20 475.47L226.45 477.74L226.70 479.15L226.95 479.67L227.20 479.30L227.45 478.03L227.70 475.91L227.95 473.00L228.20 469.37L228.45 465.12L228.70 460.36L228.95 455.21L229.20 449.81L229.45 444.30L229.70 438.82L229.95 433.51L230.20 428.50L230.45 423.92L230.70 419.89L230.95 416.51L231.20 413.87L231.45 412.02L231.70 411.01L231.95 410.86L232.20 411.58L232.45 413.13L232.70 415.49L232.95 418.57L233.20 422.31L233.45 426.59L233.70 431.31L233.95 436.35L234.20 441.57L234.45 446.84L234.70 452.02L234.95 456.99L235.20 461.61L235.45 465.76L235.70 469.35L235.95 472.29L236.20 474.50L236.45 475.93L236.70 476.56L236.95 476.35L237.20 475.34L237.45 473.55L237.70 471.02L237.95 467.83L238.20 464.07L238.45 459.83L238.70 455.23L238.95 450.38L239.20 445.42L239.45 440.47L239.70 435.65L239.95 431.09L240.20 426.91L240.45 423.21L240.70 420.08L240.95 417.60L241.20 415.82L241.45 414.79L241.70 414.53L241.95 415.04L242.20 416.30L242.45 418.27L242.70 420.90L242.95 424.11L243.20 427.82L243.45 431.93L243.70 436.34L243.95 440.91L244.20 445.54L244.45 450.12L244.70 454.51L244.95 458.61L245.20 462.31L245.45 465.54L245.70 468.20L245.95 470.23L246.20 471.58L246.45 472.24L246.70 472.18L246.95 471.42L247.20 469.97L247.45 467.89L247.70 465.23L247.95 462.07L248.20 458.49L248.45 454.59L248.70 450.46L248.95 446.23L249.20 441.99L249.45 437.86L249.70 433.95L249.95 430.34L250.20 427.13L250.45 424.40L250.70 422.21L250.95 420.62L251.20 419.66L251.45 419.34L251.70 419.67L251.95 420.63L252.20 422.19L252.45 424.30L252.70 426.91L252.95 429.95L253.20 433.32L253.45 436.93L253.70 440.71L253.95 444.53L254.20 448.31L254.45 451.95L254.70 455.36L254.95 458.45L255.20 461.14L255.45 463.38L255.70 465.11L255.95 466.29L256.20 466.90L256.45 466.94L256.70 466.40L256.95 465.30L257.20 463.70L257.45 461.62L257.70 459.14L257.95 456.32L258.20 453.24L258.45 449.97L258.70 446.62L258.95 443.26L259.20 439.98L259.45 436.87L259.70 434.00L259.95 431.44L260.20 429.26L260.45 427.50L260.70 426.20L260.95 425.39L261.20 425.09L261.45 425.29L261.70 425.97L261.95 427.12L262.20 428.70L262.45 430.65L262.70 432.93L262.95 435.46L263.20 438.19L263.45 441.03L263.70 443.90L263.95 446.75L264.20 449.48L264.45 452.05L264.70 454.37L264.95 456.39L265.20 458.08L265.45 459.39L265.70 460.29L265.95 460.77L266.20 460.83L266.45 460.47L266.70 459.71L266.95 458.58L267.20 457.11L267.45 455.35L267.70 453.36L267.95 451.18L268.20 448.88L268.45 446.52L268.70 444.16L268.95 441.87L269.20 439.70L269.45 437.71L269.70 435.93L269.95 434.42L270.20 433.21L270.45 432.32L270.70 431.76L270.95 431.55L271.20 431.68L271.45 432.13L271.70 432.89L271.95 433.92L272.20 435.21L272.45 436.69L272.70 438.33L272.95 440.09L273.20 441.91L273.45 443.74L273.70 445.54L273.95 447.26L274.20 448.85L274.45 450.28L274.70 451.52L274.95 452.53L275.20 453.31L275.45 453.83L275.70 454.10L275.95 454.11L276.20 453.87L276.45 453.40L276.70 452.72L276.95 451.85L277.20 450.83L277.45 449.69L277.70 448.46L277.95 447.18L278.20 445.89L278.45 444.62L278.70 443.40L278.95 442.28L279.20 441.26L279.45 440.38L279.70 439.66L279.95 439.10L280.20 438.71L280.45 438.50L280.70 438.46L280.95 438.58L281.20 438.86L281.45 439.27L281.70 439.80L281.95 440.42L282.20 441.11L282.45 441.85L282.70 442.61L282.95 443.36L283.20 444.09L283.45 444.77L283.70 445.39L283.95 445.93L284.20 446.38L284.45 446.74L284.70 446.99L284.95 447.14L285.20 447.19L285.45 447.16L285.70 447.04L285.95 446.86L286.20 446.62L286.45 446.34L286.70 446.04L286.95 445.73L287.20 445.43L287.45 445.16L287.70 444.92L287.95 444.72L288.20 444.58L288.45 444.49L288.70 444.47L288.95 444.50L289.20 444.59L289.45 444.73L289.70 444.90L289.95 445.10L290.20 445.31L290.45 445.53L290.70 445.73L290.95 445.90L291.20 446.02L291.45 446.09L291.70 446.10L291.95 446.03L292.20 445.88L292.45 445.65L292.70 445.34L292.95 444.95L293.20 444.49L293.45 443.98L293.70 443.43L293.95 442.85L294.20 442.26L294.45 441.68L294.70 441.14L294.95 440.65L295.20 440.24L295.45 439.92L295.70 439.72L295.95 439.64L296.20 439.70L296.45 439.90L296.70 440.26L296.95 440.76L297.20 441.40L297.45 442.17L297.70 443.06L297.95 444.04L298.20 445.09L298.45 446.18L298.70 447.29L298.95 448.38L299.20 449.43L299.45 450.39L299.70 451.23L299.95 451.94L300.20 452.47L300.45 452.82L300.70 452.96L300.95 452.87L301.20 452.55L301.45 452.01L301.70 451.24L301.95 450.27L302.20 449.10L302.45 447.76L302.70 446.29L302.95 444.72L303.20 443.09L303.45 441.44L303.70 439.81L303.95 438.26L304.20 436.82L304.45 435.54L304.70 434.46L304.95 433.61L305.20 433.03L305.45 432.73L305.70 432.74L305.95 433.06L306.20 433.69L306.45 434.63L306.70 435.85L306.95 437.34L307.20 439.06L307.45 440.97L307.70 443.02L307.95 445.17L308.20 447.35L308.45 449.52L308.70 451.61L308.95 453.57L309.20 455.34L309.45 456.86L309.70 458.11L309.95 459.02L310.20 459.58L310.45 459.75L310.70 459.53L310.95 458.92L311.20 457.91L311.45 456.54L311.70 454.82L311.95 452.80L312.20 450.52L312.45 448.04L312.70 445.42L312.95 442.73L313.20 440.02L313.45 437.39L313.70 434.89L313.95 432.60L314.20 430.57L314.45 428.87L314.70 427.55L314.95 426.64L315.20 426.19L315.45 426.21L315.70 426.70L315.95 427.66L316.20 429.09L316.45 430.93L316.70 433.16L316.95 435.73L317.20 438.56L317.45 441.60L317.70 444.76L317.95 447.96L318.20 451.13L318.45 454.17L318.70 457.01L318.95 459.57L319.20 461.78L319.45 463.58L319.70 464.90L319.95 465.72L320.20 466.00L320.45 465.73L320.70 464.91L320.95 463.55L321.20 461.68L321.45 459.34L321.70 456.58L321.95 453.48L322.20 450.10L322.45 446.54L322.70 442.88L322.95 439.22L323.20 435.64L323.45 432.26L323.70 429.15L323.95 426.40L324.20 424.09L324.45 422.27L324.70 421.02L324.95 420.35L325.20 420.31L325.45 420.89L325.70 422.09L325.95 423.88L326.20 426.23L326.45 429.07L326.70 432.35L326.95 435.98L327.20 439.86L327.45 443.91L327.70 448.02L327.95 452.09L328.20 456.00L328.45 459.65L328.70 462.95L328.95 465.81L329.20 468.15L329.45 469.90L329.70 471.02L329.95 471.46L330.20 471.21L330.45 470.28L330.70 468.67L330.95 466.42L331.20 463.59L331.45 460.24L331.70 456.46L331.95 452.34L332.20 447.98L332.45 443.49L332.70 438.99L332.95 434.60L333.20 430.43L333.45 426.58L333.70 423.17L333.95 420.28L334.20 417.99L334.45 416.37L334.70 415.46L334.95 415.29L335.20 415.88L335.45 417.21L335.70 419.25L335.95 421.96L336.20 425.27L336.45 429.11L336.70 433.37L336.95 437.95L337.20 442.73L337.45 447.59L337.70 452.41L337.95 457.06L338.20 461.42L338.45 465.38L338.70 468.82L338.95 471.66L339.20 473.83L339.45 475.26L339.70 475.90L339.95 475.74L340.20 474.78L340.45 473.03L340.70 470.54L340.95 467.37L341.20 463.59L341.45 459.30L341.70 454.60L341.95 449.61L342.20 444.47L342.45 439.30L342.70 434.24L342.95 429.41L343.20 424.95L343.45 420.96L343.70 417.56L343.95 414.84L344.20 412.86L344.45 411.69L344.70 411.36L344.95 411.88L345.20 413.25L345.45 415.42L345.70 418.36L345.95 421.98L346.20 426.20L346.45 430.91L346.70 435.99L346.95 441.32L347.20 446.76L347.45 452.16L347.70 457.39L347.95 462.31L348.20 466.80L348.45 470.74L348.70 474.02L348.95 476.55L349.20 478.28L349.45 479.14L349.70 479.12L349.95 478.21L350.20 476.43L350.45 473.83L350.70 470.46L350.95 466.42L351.20 461.80L351.45 456.72L351.70 451.31L351.95 445.71L352.20 440.06L352.45 434.50L352.70 429.19L352.95 424.25L353.20 419.82L353.45 416.01L353.70 412.92L353.95 410.63L354.20 409.20L354.45 408.68L354.70 409.08L354.95 410.40L355.20 412.59L355.45 415.61L355.70 419.38L355.95 423.80L356.20 428.77L356.45 434.16L356.70 439.82L356.95 445.63L357.20 451.42L357.45 457.04L357.70 462.36L357.95 467.23L358.20 471.53L358.45 475.15L358.70 477.99L358.95 479.97L359.20 481.06L359.45 481.20L359.70 480.41L359.95 478.70L360.20 476.10L360.45 472.69L360.70 468.56L360.95 463.80L361.20 458.54L361.45 452.92L361.70 447.07L361.95 441.14L362.20 435.30L362.45 429.69L362.70 424.45L362.95 419.72L363.20 415.62L363.45 412.26L363.70 409.73L363.95 408.08L364.20 407.37L364.45 407.61L364.70 408.80L364.95 410.90L365.20 413.88L365.45 417.64L365.70 422.09L365.95 427.12L366.20 432.60L366.45 438.39L366.70 444.34L366.95 450.30L367.20 456.11L367.45 461.63L367.70 466.72L367.95 471.23L368.20 475.06L368.45 478.11L368.70 480.30L368.95 481.58L369.20 481.90L369.45 481.27L369.70 479.70L369.95 477.22L370.20 473.91L370.45 469.85L370.70 465.14L370.95 459.90L371.20 454.27L371.45 448.40L371.70 442.43L371.95 436.52L372.20 430.81L372.45 425.47L372.70 420.61L372.95 416.37L373.20 412.86L373.45 410.16L373.70 408.35L373.95 407.46L374.20 407.53L374.45 408.55L374.70 410.48L374.95 413.29L375.20 416.89L375.45 421.20L375.70 426.10L375.95 431.47L376.20 437.16L376.45 443.04L376.70 448.95L376.95 454.73L377.20 460.25L377.45 465.35L377.70 469.91L377.95 473.82L378.20 476.97L378.45 479.28L378.70 480.70L378.95 481.19L379.20 480.74L379.45 479.36L379.70 477.10L379.95 474.01L380.20 470.17L380.45 465.68L380.70 460.66L380.95 455.24L381.20 449.56L381.45 443.77L381.70 438.01L381.95 432.43L382.20 427.18L382.45 422.38L382.70 418.17L382.95 414.64L383.20 411.89L383.45 409.98L383.70 408.96L383.95 408.86L384.20 409.67L384.45 411.37L384.70 413.92L384.95 417.24L385.20 421.25L385.45 425.84L385.70 430.90L385.95 436.29L386.20 441.87L386.45 447.50L386.70 453.04L386.95 458.34L387.20 463.26L387.45 467.69L387.70 471.51L387.95 474.63L388.20 476.96L388.45 478.46L388.70 479.08L388.95 478.81L389.20 477.67L389.45 475.69L389.70 472.92L389.95 469.43L390.20 465.33L390.45 460.70L390.70 455.69L390.95 450.41L391.20 445.01L391.45 439.62L391.70 434.38L391.95 429.43L392.20 424.89L392.45 420.87L392.70 417.48L392.95 414.79L393.20 412.89L393.45 411.80L393.70 411.55L393.95 412.15L394.20 413.58L394.45 415.79L394.70 418.72L394.95 422.30L395.20 426.43L395.45 431.00L395.70 435.89L395.95 440.97L396.20 446.12L396.45 451.19L396.70 456.07L396.95 460.62L397.20 464.73L397.45 468.30L397.70 471.24L397.95 473.49L398.20 474.97L398.45 475.67L398.70 475.57L398.95 474.68L399.20 473.02L399.45 470.64L399.70 467.62L399.95 464.02L400.20 459.95L400.45 455.52L400.70 450.83L400.95 446.02L401.20 441.21L401.45 436.52L401.70 432.06L401.95 427.96L402.20 424.31L402.45 421.21L402.70 418.73L402.95 416.92L403.20 415.84L403.45 415.50L403.70 415.91L403.95 417.04L404.20 418.87L404.45 421.34L404.70 424.38L404.95 427.91L405.20 431.84L405.45 436.06L405.70 440.46L405.95 444.93L406.20 449.35L406.45 453.60L406.70 457.59L406.95 461.21L407.20 464.37L407.45 466.99L407.70 469.02L407.95 470.40L408.20 471.10L408.45 471.13L408.70 470.47L408.95 469.16L409.20 467.23L409.45 464.74L409.70 461.76L409.95 458.37L410.20 454.66L410.45 450.73L410.70 446.69L410.95 442.63L411.20 438.66L411.45 434.89L411.70 431.41L411.95 428.30L412.20 425.64L412.45 423.49L412.70 421.91L412.95 420.92L413.20 420.55L413.45 420.79L413.70 421.64L413.95 423.06L414.20 425.02L414.45 427.45L414.70 430.29L414.95 433.46L415.20 436.87L415.45 440.44L415.70 444.06L415.95 447.65L416.20 451.12L416.45 454.37L416.70 457.32L416.95 459.92L417.20 462.08L417.45 463.77L417.70 464.94L417.95 465.57L418.20 465.66L418.45 465.21L418.70 464.23L418.95 462.77L419.20 460.86L419.45 458.57L419.70 455.95L419.95 453.08L420.20 450.04L420.45 446.90L420.70 443.75L420.95 440.67L421.20 437.74L421.45 435.04L421.70 432.62L421.95 430.54L422.20 428.86L422.45 427.61L422.70 426.81L422.95 426.48L423.20 426.62L423.45 427.21L423.70 428.24L423.95 429.66L424.20 431.44L424.45 433.52L424.70 435.84L424.95 438.35L425.20 440.96L425.45 443.61L425.70 446.24L425.95 448.76L426.20 451.13L426.45 453.29L426.70 455.17L426.95 456.74L427.20 457.97L427.45 458.83L427.70 459.30L427.95 459.39L428.20 459.09L428.45 458.43L428.70 457.43L428.95 456.12L429.20 454.54L429.45 452.75L429.70 450.79L429.95 448.72L430.20 446.60L430.45 444.48L430.70 442.41L430.95 440.45L431.20 438.65L431.45 437.05L431.70 435.69L431.95 434.59L432.20 433.78L432.45 433.27L432.70 433.06L432.95 433.16L433.20 433.54L433.45 434.20L433.70 435.10L433.95 436.22L434.20 437.51L434.45 438.94L434.70 440.47L434.95 442.06L435.20 443.65L435.45 445.21L435.70 446.69L435.95 448.07L436.20 449.30L436.45 450.36L436.70 451.23L436.95 451.89L437.20 452.33L437.45 452.56L437.70 452.56L437.95 452.36L438.20 451.96L438.45 451.39L438.70 450.66L438.95 449.81L439.20 448.87L439.45 447.85L439.70 446.81L439.95 445.76L440.20 444.73L440.45 443.76L440.70 442.87L440.95 442.08L441.20 441.40L441.45 440.85L441.70 440.43L441.95 440.16L442.20 440.02L442.45 440.02L442.70 440.15L442.95 440.38L443.20 440.72L443.45 441.13L443.70 441.61L443.95 442.13L444.20 442.66L444.45 443.20L444.70 443.72L444.95 444.20L445.20 444.63L445.45 445.01L445.70 445.31L445.95 445.54L446.20 445.70L446.45 445.78L446.70 445.78L446.95 445.73L447.20 445.62L447.45 445.47L447.70 445.28L447.95 445.09L448.20 444.89L448.45 444.71L448.70 444.55L448.95 444.43L449.20 444.36L449.45 444.34L449.70 444.39L449.95 444.49L450.20 444.65L450.45 444.88L450.70 445.14L450.95 445.45L451.20 445.78L451.45 446.13L451.70 446.47L451.95 446.79L452.20 447.07L452.45 447.30L452.70 447.47L452.95 447.54L453.20 447.53L453.45 447.42L453.70 447.19L453.95 446.86L454.20 446.43L454.45 445.89L454.70 445.26L454.95 444.56L455.20 443.80L455.45 443.00L455.70 442.19L455.95 441.38L456.20 440.61L456.45 439.90L456.70 439.28L456.95 438.76L457.20 438.38L457.45 438.15L457.70 438.08L457.95 438.19L458.20 438.49L458.45 438.96L458.70 439.62L458.95 440.44L459.20 441.42L459.45 442.53L459.70 443.75L459.95 445.04L460.20 446.38L460.45 447.73L460.70 449.05L460.95 450.30L461.20 451.45L461.45 452.46L461.70 453.30L461.95 453.93L462.20 454.34L462.45 454.50L462.70 454.40L462.95 454.03L463.20 453.40L463.45 452.51L463.70 451.37L463.95 450.02L464.20 448.48L464.45 446.79L464.70 444.99L464.95 443.11L465.20 441.22L465.45 439.36L465.70 437.59L465.95 435.95L466.20 434.48L466.45 433.25L466.70 432.27L466.95 431.60L467.20 431.24L467.45 431.23L467.70 431.57L467.95 432.25L468.20 433.28L468.45 434.63L468.70 436.27L468.95 438.17L469.20 440.28L469.45 442.55L469.70 444.92L469.95 447.34L470.20 449.74L470.45 452.06L470.70 454.23L470.95 456.20L471.20 457.90L471.45 459.29L471.70 460.33L471.95 460.97L472.20 461.20L472.45 461.00L472.70 460.36L472.95 459.30L473.20 457.84L473.45 456.00L473.70 453.83L473.95 451.38L474.20 448.70L474.45 445.87L474.70 442.95L474.95 440.03L475.20 437.17L475.45 434.45L475.70 431.95L475.95 429.73L476.20 427.86L476.45 426.40L476.70 425.38L476.95 424.84L477.20 424.81L477.45 425.29L477.70 426.27L477.95 427.75L478.20 429.68L478.45 432.03L478.70 434.74L478.95 437.74L479.20 440.97L479.45 444.33L479.70 447.75L479.95 451.13L480.20 454.39L480.45 457.44L480.70 460.20L480.95 462.59L481.20 464.54L481.45 466.00L481.70 466.93L481.95 467.29L482.20 467.07L482.45 466.26L482.70 464.88L482.95 462.95L483.20 460.53L483.45 457.66L483.70 454.42L483.95 450.89L484.20 447.14L484.45 443.29L484.70 439.43L484.95 435.65L485.20 432.06L485.45 428.75L485.70 425.81L485.95 423.33L486.20 421.36L486.45 419.98L486.70 419.21L486.95 419.09L487.20 419.62L487.45 420.81L487.70 422.62L487.95 425.01L488.20 427.94L488.45 431.32L488.70 435.07L488.95 439.11L489.20 443.33L489.45 447.62L489.70 451.87L489.95 455.98L490.20 459.82L490.45 463.31L490.70 466.35L490.95 468.85L491.20 470.75L491.45 471.99L491.70 472.53L491.95 472.36L492.20 471.47L492.45 469.87L492.70 467.61L492.95 464.74L493.20 461.32L493.45 457.44L493.70 453.20L493.95 448.70L494.20 444.06L494.45 439.39L494.70 434.82L494.95 430.47L495.20 426.44L495.45 422.85L495.70 419.80L495.95 417.35L496.20 415.59L496.45 414.57L496.70 414.30L496.95 414.82L497.20 416.10L497.45 418.13L497.70 420.85L497.95 424.19L498.20 428.09L498.45 432.43L498.70 437.12L498.95 442.03L499.20 447.03L499.45 452.00L499.70 456.82L499.95 461.34L500.20 465.47L500.45 469.08L500.70 472.08L500.95 474.39L501.20 475.95L501.45 476.70L501.70 476.64L501.95 475.75L502.20 474.05L502.45 471.59L502.70 468.41L502.95 464.60L503.20 460.26L503.45 455.49L503.70 450.41L503.95 445.16L504.20 439.86L504.45 434.66L504.70 429.68L504.95 425.06L505.20 420.92L505.45 417.37L505.70 414.50L505.95 412.39L506.20 411.09L506.45 410.65L506.70 411.08L506.95 412.37L507.20 414.49L507.45 417.40L507.70 421.01L507.95 425.25L508.20 430.00L508.45 435.14L508.70 440.54L508.95 446.08L509.20 451.59L509.45 456.94L509.70 462.00L509.95 466.63L510.20 470.71L510.45 474.13L510.70 476.80L510.95 478.66L511.20 479.64L511.45 479.73L511.70 478.92L511.95 477.22L512.20 474.67L512.45 471.34L512.70 467.32L512.95 462.69L513.20 457.59L513.45 452.14L513.70 446.47L513.95 440.74L514.20 435.09L514.45 429.66L514.70 424.61L514.95 420.05L515.20 416.11L515.45 412.89L515.70 410.47L515.95 408.92L516.20 408.28L516.45 408.57L516.70 409.79L516.95 411.90L517.20 414.85L517.45 418.58L517.70 422.97L517.95 427.93L518.20 433.33L518.45 439.02L518.70 444.87L518.95 450.72L519.20 456.43L519.45 461.84L519.70 466.81L519.95 471.23L520.20 474.96L520.45 477.93L520.70 480.04L520.95 481.24L521.20 481.50L521.45 480.82L521.70 479.20L521.95 476.70L522.20 473.36L522.45 469.28L522.70 464.57L522.95 459.33L523.20 453.71L523.45 447.85L523.70 441.90L523.95 436.01L524.20 430.34L524.45 425.02L524.70 420.20L524.95 416.00L525.20 412.54L525.45 409.88L525.70 408.12L525.95 407.29L526.20 407.42L526.45 408.49L526.70 410.50L526.95 413.37L527.20 417.05L527.45 421.43L527.70 426.41L527.95 431.85L528.20 437.62L528.45 443.56L528.70 449.53L528.95 455.38" fill="none" stroke="#0080CC" stroke-width="1.68" stroke-linejoin="round"/>
<path d="M49.70 407.18L51.70 407.21L53.70 407.30L55.70 407.44L57.70 407.65L59.70 407.90L61.70 408.22L63.70 408.59L65.70 409.02L67.70 409.50L69.70 410.04L71.70 410.63L73.70 411.28L75.70 411.97L77.70 412.72L79.70 413.51L81.70 414.35L83.70 415.24L85.70 416.18L87.70 417.16L89.70 418.18L91.70 419.24L93.70 420.34L95.70 421.48L97.70 422.66L99.70 423.87L101.70 425.11L103.70 426.38L105.70 427.68L107.70 429.00L109.70 430.35L111.70 431.72L113.70 433.12L115.70 434.52L117.70 435.95L119.70 437.39L121.70 438.84L123.70 440.29L125.70 441.76L127.70 443.23L129.70 444.70L131.70 446.17L133.70 447.64L135.70 449.10L137.70 450.56L139.70 452.00L141.70 453.44L143.70 454.86L145.70 456.26L147.70 457.65L149.70 459.02L151.70 460.36L153.70 461.68L155.70 462.98L157.70 464.24L159.70 465.48L161.70 466.68L163.70 467.85L165.70 468.98L167.70 470.07L169.70 471.13L171.70 472.14L173.70 473.11L175.70 474.04L177.70 474.92L179.70 475.75L181.70 476.54L183.70 477.27L185.70 477.96L187.70 478.59L189.70 479.17L191.70 479.70L193.70 480.17L195.70 480.59L197.70 480.95L199.70 481.25L201.70 481.50L203.70 481.69L205.70 481.82L207.70 481.90L209.70 481.92L211.70 481.87L213.70 481.78L215.70 481.62L217.70 481.41L219.70 481.14L221.70 480.81L223.70 480.43L225.70 479.99L227.70 479.49L229.70 478.94L231.70 478.34L233.70 477.69L235.70 476.98L237.70 476.23L239.70 475.42L241.70 474.57L243.70 473.67L245.70 472.73L247.70 471.74L249.70 470.71L251.70 469.64L253.70 468.53L255.70 467.38L257.70 466.20L259.70 464.99L261.70 463.74L263.70 462.46L265.70 461.16L267.70 459.83L269.70 458.48L271.70 457.10L273.70 455.70L275.70 454.29L277.70 452.86L279.70 451.42L281.70 449.97L283.70 448.51L285.70 447.05L287.70 445.58L289.70 444.11L291.70 442.64L293.70 441.17L295.70 439.71L297.70 438.25L299.70 436.81L301.70 435.38L303.70 433.96L305.70 432.56L307.70 431.17L309.70 429.81L311.70 428.47L313.70 427.15L315.70 425.87L317.70 424.61L319.70 423.38L321.70 422.18L323.70 421.02L325.70 419.90L327.70 418.81L329.70 417.77L331.70 416.76L333.70 415.80L335.70 414.88L337.70 414.01L339.70 413.19L341.70 412.41L343.70 411.69L345.70 411.01L347.70 410.39L349.70 409.82L351.70 409.30L353.70 408.84L355.70 408.44L357.70 408.09L359.70 407.79L361.70 407.56L363.70 407.38L365.70 407.26L367.70 407.19L369.70 407.19L371.70 407.24L373.70 407.35L375.70 407.52L377.70 407.74L379.70 408.02L381.70 408.36L383.70 408.76L385.70 409.21L387.70 409.71L389.70 410.27L391.70 410.88L393.70 411.55L395.70 412.26L397.70 413.03L399.70 413.84L401.70 414.70L403.70 415.61L405.70 416.57L407.70 417.56L409.70 418.60L411.70 419.68L413.70 420.80L415.70 421.95L417.70 423.14L419.70 424.36L421.70 425.61L423.70 426.89L425.70 428.20L427.70 429.54L429.70 430.90L431.70 432.28L433.70 433.68L435.70 435.09L437.70 436.52L439.70 437.96L441.70 439.42L443.70 440.88L445.70 442.34L447.70 443.81L449.70 445.29L451.70 446.76L453.70 448.22L455.70 449.68L457.70 451.14L459.70 452.58L461.70 454.01L463.70 455.42L465.70 456.82L467.70 458.20L469.70 459.56L471.70 460.90L473.70 462.21L475.70 463.49L477.70 464.74L479.70 465.96L481.70 467.15L483.70 468.30L485.70 469.42L487.70 470.50L489.70 471.54L491.70 472.53L493.70 473.49L495.70 474.40L497.70 475.26L499.70 476.07L501.70 476.84L503.70 477.55L505.70 478.22L507.70 478.83L509.70 479.39L511.70 479.89L513.70 480.34L515.70 480.74L517.70 481.08L519.70 481.36L521.70 481.58L523.70 481.75L525.70 481.86L527.70 481.91" fill="none" stroke="#F05A16" stroke-width="2.0" stroke-linejoin="round"/>
</g></g><g stroke="#6c6c6c" stroke-width="1.15"><path d="M49.7 388.5V500.6H528.5" fill="none"/><line x1="49.70" y1="500.6" x2="49.70" y2="495.8"/><line x1="209.30" y1="500.6" x2="209.30" y2="495.8"/><line x1="368.90" y1="500.6" x2="368.90" y2="495.8"/><line x1="528.50" y1="500.6" x2="528.50" y2="495.8"/><line x1="49.7" y1="481.92" x2="54.5" y2="481.92"/><line x1="49.7" y1="444.55" x2="54.5" y2="444.55"/><line x1="49.7" y1="407.18" x2="54.5" y2="407.18"/></g>
<text class="tk" transform="translate(43.80,487.42) scale(0.93,1)" text-anchor="end">-1</text><text class="tk" transform="translate(43.80,450.05) scale(0.93,1)" text-anchor="end">0</text><text class="tk" transform="translate(43.80,412.68) scale(0.93,1)" text-anchor="end">1</text><text class="tk" transform="translate(49.70,521.20) scale(0.93,1)" style="font-size:14.8px" text-anchor="middle">0°</text><text class="tk" transform="translate(208.70,521.20) scale(0.93,1)" style="font-size:14.8px" text-anchor="middle">180°</text><text class="tk" transform="translate(368.30,521.20) scale(0.93,1)" style="font-size:14.8px" text-anchor="middle">360°</text><text class="tk" transform="translate(527.90,521.20) scale(0.93,1)" style="font-size:14.8px" text-anchor="middle">540°</text>
<text class="tt" transform="translate(289,383.90) scale(1.022,1)" text-anchor="middle">Resolver feedback - COS signal</text>
<text class="lb" transform="translate(263.1,541.55) scale(1.075,1)"><tspan class="om" style="font-size:14.4px" fill="#555">ω </tspan><tspan x="13.86">in [°]</tspan></text>
<text class="lb" transform="translate(16.5,459.95) rotate(-90) scale(1.02,1.15)">S<tspan x="10.20" dy="6.35" style="font-size:11.64px" textLength="19.83" lengthAdjust="spacingAndGlyphs">cos</tspan></text>
<rect x="337.9" y="403.30" width="175.70" height="20.8" fill="#fff" stroke="#6b6b6b" stroke-width="1.25"/><line x1="341.90" y1="413.90" x2="384.50" y2="413.90" stroke="#0080CC" stroke-width="1.7"/><text class="lg" x="388.40" y="418.45">COS feedback signal</text>
</svg>
</body></html>
